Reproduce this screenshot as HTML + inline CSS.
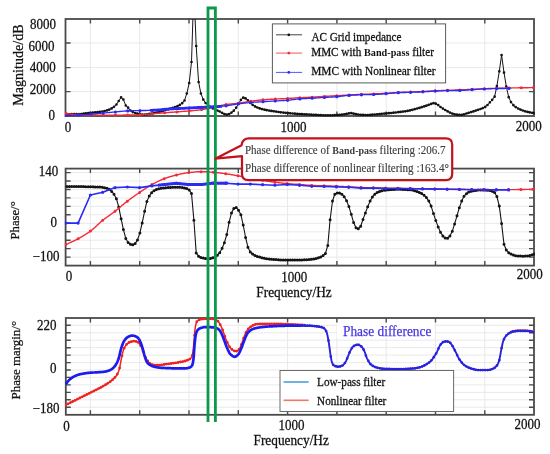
<!DOCTYPE html>
<html><head><meta charset="utf-8"><title>Frequency response comparison</title>
<style>
html,body{margin:0;padding:0;background:#fff;width:550px;height:454px;overflow:hidden}
svg{display:block;filter:blur(0.35px)}
</style></head><body>
<svg width="550" height="454" viewBox="0 0 550 454">
<rect width="550" height="454" fill="#fff"/>
<defs>
<clipPath id="c0"><rect x="64.7" y="19" width="470.1" height="97.8"/></clipPath>
<clipPath id="c1"><rect x="64.8" y="168.6" width="470" height="97.8"/></clipPath>
<clipPath id="c2"><rect x="65" y="318" width="469.8" height="97.6"/></clipPath>
</defs>
<g stroke="#e7e7e7" stroke-width="0.9"><line x1="90.4" y1="19" x2="90.4" y2="116"/><line x1="139.7" y1="19" x2="139.7" y2="116"/><line x1="189" y1="19" x2="189" y2="116"/><line x1="238.3" y1="19" x2="238.3" y2="116"/><line x1="287.6" y1="19" x2="287.6" y2="116"/><line x1="336.9" y1="19" x2="336.9" y2="116"/><line x1="386.2" y1="19" x2="386.2" y2="116"/><line x1="435.5" y1="19" x2="435.5" y2="116"/><line x1="484.8" y1="19" x2="484.8" y2="116"/><line x1="65.5" y1="43" x2="534" y2="43"/><line x1="65.5" y1="67.6" x2="534" y2="67.6"/><line x1="65.5" y1="91.6" x2="534" y2="91.6"/></g>
<g stroke="#e7e7e7" stroke-width="0.9"><line x1="90.4" y1="168.6" x2="90.4" y2="265.6"/><line x1="139.7" y1="168.6" x2="139.7" y2="265.6"/><line x1="189" y1="168.6" x2="189" y2="265.6"/><line x1="238.3" y1="168.6" x2="238.3" y2="265.6"/><line x1="287.6" y1="168.6" x2="287.6" y2="265.6"/><line x1="336.9" y1="168.6" x2="336.9" y2="265.6"/><line x1="386.2" y1="168.6" x2="386.2" y2="265.6"/><line x1="435.5" y1="168.6" x2="435.5" y2="265.6"/><line x1="484.8" y1="168.6" x2="484.8" y2="265.6"/><line x1="65.6" y1="172.6" x2="534" y2="172.6"/><line x1="65.6" y1="181" x2="534" y2="181"/><line x1="65.6" y1="189.5" x2="534" y2="189.5"/><line x1="65.6" y1="197.9" x2="534" y2="197.9"/><line x1="65.6" y1="206.4" x2="534" y2="206.4"/><line x1="65.6" y1="214.8" x2="534" y2="214.8"/><line x1="65.6" y1="223.3" x2="534" y2="223.3"/><line x1="65.6" y1="231.8" x2="534" y2="231.8"/><line x1="65.6" y1="240.2" x2="534" y2="240.2"/><line x1="65.6" y1="248.6" x2="534" y2="248.6"/><line x1="65.6" y1="257.1" x2="534" y2="257.1"/></g>
<g stroke="#e7e7e7" stroke-width="0.9"><line x1="90.4" y1="318" x2="90.4" y2="414.8"/><line x1="139.7" y1="318" x2="139.7" y2="414.8"/><line x1="189" y1="318" x2="189" y2="414.8"/><line x1="238.3" y1="318" x2="238.3" y2="414.8"/><line x1="287.6" y1="318" x2="287.6" y2="414.8"/><line x1="336.9" y1="318" x2="336.9" y2="414.8"/><line x1="386.2" y1="318" x2="386.2" y2="414.8"/><line x1="435.5" y1="318" x2="435.5" y2="414.8"/><line x1="484.8" y1="318" x2="484.8" y2="414.8"/><line x1="65.8" y1="325.3" x2="534" y2="325.3"/><line x1="65.8" y1="332.8" x2="534" y2="332.8"/><line x1="65.8" y1="340.2" x2="534" y2="340.2"/><line x1="65.8" y1="347.7" x2="534" y2="347.7"/><line x1="65.8" y1="355.1" x2="534" y2="355.1"/><line x1="65.8" y1="362.6" x2="534" y2="362.6"/><line x1="65.8" y1="370" x2="534" y2="370"/><line x1="65.8" y1="377.4" x2="534" y2="377.4"/><line x1="65.8" y1="384.9" x2="534" y2="384.9"/><line x1="65.8" y1="392.4" x2="534" y2="392.4"/><line x1="65.8" y1="399.8" x2="534" y2="399.8"/><line x1="65.8" y1="407.2" x2="534" y2="407.2"/></g>
<path d="M90.4,19v4.5M90.4,116v-4.5M139.7,19v4.5M139.7,116v-4.5M189,19v4.5M189,116v-4.5M238.3,19v4.5M238.3,116v-4.5M287.6,19v4.5M287.6,116v-4.5M336.9,19v4.5M336.9,116v-4.5M386.2,19v4.5M386.2,116v-4.5M435.5,19v4.5M435.5,116v-4.5M484.8,19v4.5M484.8,116v-4.5M65.5,43h5M534,43h-5M65.5,67.6h5M534,67.6h-5M65.5,91.6h5M534,91.6h-5" stroke="#4a4a4a" stroke-width="1.4" fill="none"/><rect x="65.5" y="19" width="468.5" height="97" fill="none" stroke="#4a4a4a" stroke-width="1.8"/>
<path d="M90.4,168.6v4.5M90.4,265.6v-4.5M139.7,168.6v4.5M139.7,265.6v-4.5M189,168.6v4.5M189,265.6v-4.5M238.3,168.6v4.5M238.3,265.6v-4.5M287.6,168.6v4.5M287.6,265.6v-4.5M336.9,168.6v4.5M336.9,265.6v-4.5M386.2,168.6v4.5M386.2,265.6v-4.5M435.5,168.6v4.5M435.5,265.6v-4.5M484.8,168.6v4.5M484.8,265.6v-4.5M65.6,172.6h5M534,172.6h-5M65.6,181h5M534,181h-5M65.6,189.5h5M534,189.5h-5M65.6,197.9h5M534,197.9h-5M65.6,206.4h5M534,206.4h-5M65.6,214.8h5M534,214.8h-5M65.6,223.3h5M534,223.3h-5M65.6,231.8h5M534,231.8h-5M65.6,240.2h5M534,240.2h-5M65.6,248.6h5M534,248.6h-5M65.6,257.1h5M534,257.1h-5" stroke="#4a4a4a" stroke-width="1.4" fill="none"/><rect x="65.6" y="168.6" width="468.4" height="97" fill="none" stroke="#4a4a4a" stroke-width="1.8"/>
<path d="M90.4,318v4.5M90.4,414.8v-4.5M139.7,318v4.5M139.7,414.8v-4.5M189,318v4.5M189,414.8v-4.5M238.3,318v4.5M238.3,414.8v-4.5M287.6,318v4.5M287.6,414.8v-4.5M336.9,318v4.5M336.9,414.8v-4.5M386.2,318v4.5M386.2,414.8v-4.5M435.5,318v4.5M435.5,414.8v-4.5M484.8,318v4.5M484.8,414.8v-4.5M65.8,325.3h5M534,325.3h-5M65.8,332.8h5M534,332.8h-5M65.8,340.2h5M534,340.2h-5M65.8,347.7h5M534,347.7h-5M65.8,355.1h5M534,355.1h-5M65.8,362.6h5M534,362.6h-5M65.8,370h5M534,370h-5M65.8,377.4h5M534,377.4h-5M65.8,384.9h5M534,384.9h-5M65.8,392.4h5M534,392.4h-5M65.8,399.8h5M534,399.8h-5M65.8,407.2h5M534,407.2h-5" stroke="#4a4a4a" stroke-width="1.4" fill="none"/><rect x="65.8" y="318" width="468.2" height="96.8" fill="none" stroke="#4a4a4a" stroke-width="1.8"/>
<g clip-path="url(#c0)"><path d="M67,114.3 L69.4,114.3 L71.7,114.2 L74.1,114.2 L76.4,114.2 L78.8,114.1 L81.1,114 L83.5,113.7 L85.8,113.4 L88.2,113.1 L90.5,112.9 L92.9,112.6 L95.2,112.4 L97.6,112.2 L99.9,111.9 L102.3,111.5 L104.6,111 L107,110.4 L109.3,109.6 L111.7,108.4 L114,106.8 L116.4,104.5 L118.7,101 L121.1,97.4 L123.4,99.6 L125.8,105.5 L128.1,107.7 L130.5,110.5 L132.8,112.1 L135.2,113 L137.5,113.7 L139.9,114.1 L142.2,114.5 L144.6,114.6 L146.9,114.3 L149.3,113.9 L151.6,113.5 L154,113 L156.3,112.5 L158.7,112 L161,111.4 L163.4,110.8 L165.7,110.1 L168.1,109.3 L170.4,108.6 L172.8,107.9 L175.1,107.1 L177.5,106.1 L179.8,104.9 L182.2,103.2 L184.5,100.5 L186.8,93.5 L189.2,83 L191.5,62 L193.9,-12 L196.2,46 L198.6,82 L200.9,93.5 L203.3,99.7 L205.6,103 L208,105.1 L210.3,106.8 L212.7,108.3 L215,109.5 L217.4,110.5 L219.7,111.5 L222.1,112.8 L224.4,114.1 L226.8,114.6 L229.1,114 L231.5,112.6 L233.8,110.7 L236.2,107.7 L238.5,103.7 L240.9,99.9 L243.2,97.7 L245.6,98.4 L247.9,100.3 L250.3,102.9 L252.6,104.8 L255,106.4 L257.3,107.5 L259.7,108.4 L262,109.1 L264.4,109.7 L266.7,110.2 L269.1,110.6 L271.4,110.9 L273.8,111.3 L276.1,111.6 L278.5,112 L280.8,112.3 L283.2,112.6 L285.5,112.8 L287.9,113.1 L290.2,113.3 L292.6,113.5 L294.9,113.7 L297.3,113.9 L299.6,114 L301.9,114.2 L304.3,114.3 L306.6,114.4 L309,114.5 L311.3,114.7 L313.7,114.8 L316,114.9 L318.4,115.1 L320.7,115.2 L323.1,115.3 L325.4,115.4 L327.8,115.4 L330.1,115.4 L332.5,115.3 L334.8,115.2 L337.2,115.1 L339.5,114.9 L341.9,114.7 L344.2,114.3 L346.6,113.9 L348.9,113.4 L351.3,113.2 L353.6,113.7 L356,114.2 L358.3,114.5 L360.7,114.8 L363,114.9 L365.4,115 L367.7,115 L370.1,114.9 L372.4,114.7 L374.8,114.5 L377.1,114.3 L379.5,114.1 L381.8,113.8 L384.2,113.6 L386.5,113.4 L388.9,113.2 L391.2,113 L393.6,112.7 L395.9,112.5 L398.3,112.2 L400.6,111.9 L403,111.6 L405.3,111.3 L407.7,110.9 L410,110.4 L412.4,109.8 L414.7,109.2 L417.1,108.5 L419.4,107.9 L421.7,107.2 L424.1,106.4 L426.4,105.7 L428.8,104.8 L431.1,103.9 L433.5,103.2 L435.8,103.7 L438.2,105.1 L440.5,107 L442.9,108.6 L445.2,110 L447.6,111.3 L449.9,112.6 L452.3,113.6 L454.6,114.3 L457,114.7 L459.3,114.8 L461.7,114.8 L464,114.4 L466.4,113.5 L468.7,112.8 L471.1,112.1 L473.4,111.4 L475.8,110.6 L478.1,109.8 L480.5,109 L482.8,108.1 L485.2,106.9 L487.5,105 L489.9,102.3 L492.2,99.8 L494.6,96.7 L496.9,86 L499.3,71.3 L501.6,55 L504,72.6 L506.3,86.5 L508.7,97.2 L511,102.1 L513.4,105.2 L515.7,107.1 L518.1,108.5 L520.4,109.6 L522.8,110.5 L525.1,111.3 L527.5,111.9 L529.8,112.4 L532.2,112.8 L534.5,113.1" fill="none" stroke="#141414" stroke-width="1.0" stroke-linejoin="round"/><path d="M67,114.3h0M69.4,114.3h0M71.7,114.2h0M74.1,114.2h0M76.4,114.2h0M78.8,114.1h0M81.1,114h0M83.5,113.7h0M85.8,113.4h0M88.2,113.1h0M90.5,112.9h0M92.9,112.6h0M95.2,112.4h0M97.6,112.2h0M99.9,111.9h0M102.3,111.5h0M104.6,111h0M107,110.4h0M109.3,109.6h0M111.7,108.4h0M114,106.8h0M116.4,104.5h0M118.7,101h0M121.1,97.4h0M123.4,99.6h0M125.8,105.5h0M128.1,107.7h0M130.5,110.5h0M132.8,112.1h0M135.2,113h0M137.5,113.7h0M139.9,114.1h0M142.2,114.5h0M144.6,114.6h0M146.9,114.3h0M149.3,113.9h0M151.6,113.5h0M154,113h0M156.3,112.5h0M158.7,112h0M161,111.4h0M163.4,110.8h0M165.7,110.1h0M168.1,109.3h0M170.4,108.6h0M172.8,107.9h0M175.1,107.1h0M177.5,106.1h0M179.8,104.9h0M182.2,103.2h0M184.5,100.5h0M186.8,93.5h0M189.2,83h0M191.5,62h0M193.9,-12h0M196.2,46h0M198.6,82h0M200.9,93.5h0M203.3,99.7h0M205.6,103h0M208,105.1h0M210.3,106.8h0M212.7,108.3h0M215,109.5h0M217.4,110.5h0M219.7,111.5h0M222.1,112.8h0M224.4,114.1h0M226.8,114.6h0M229.1,114h0M231.5,112.6h0M233.8,110.7h0M236.2,107.7h0M238.5,103.7h0M240.9,99.9h0M243.2,97.7h0M245.6,98.4h0M247.9,100.3h0M250.3,102.9h0M252.6,104.8h0M255,106.4h0M257.3,107.5h0M259.7,108.4h0M262,109.1h0M264.4,109.7h0M266.7,110.2h0M269.1,110.6h0M271.4,110.9h0M273.8,111.3h0M276.1,111.6h0M278.5,112h0M280.8,112.3h0M283.2,112.6h0M285.5,112.8h0M287.9,113.1h0M290.2,113.3h0M292.6,113.5h0M294.9,113.7h0M297.3,113.9h0M299.6,114h0M301.9,114.2h0M304.3,114.3h0M306.6,114.4h0M309,114.5h0M311.3,114.7h0M313.7,114.8h0M316,114.9h0M318.4,115.1h0M320.7,115.2h0M323.1,115.3h0M325.4,115.4h0M327.8,115.4h0M330.1,115.4h0M332.5,115.3h0M334.8,115.2h0M337.2,115.1h0M339.5,114.9h0M341.9,114.7h0M344.2,114.3h0M346.6,113.9h0M348.9,113.4h0M351.3,113.2h0M353.6,113.7h0M356,114.2h0M358.3,114.5h0M360.7,114.8h0M363,114.9h0M365.4,115h0M367.7,115h0M370.1,114.9h0M372.4,114.7h0M374.8,114.5h0M377.1,114.3h0M379.5,114.1h0M381.8,113.8h0M384.2,113.6h0M386.5,113.4h0M388.9,113.2h0M391.2,113h0M393.6,112.7h0M395.9,112.5h0M398.3,112.2h0M400.6,111.9h0M403,111.6h0M405.3,111.3h0M407.7,110.9h0M410,110.4h0M412.4,109.8h0M414.7,109.2h0M417.1,108.5h0M419.4,107.9h0M421.7,107.2h0M424.1,106.4h0M426.4,105.7h0M428.8,104.8h0M431.1,103.9h0M433.5,103.2h0M435.8,103.7h0M438.2,105.1h0M440.5,107h0M442.9,108.6h0M445.2,110h0M447.6,111.3h0M449.9,112.6h0M452.3,113.6h0M454.6,114.3h0M457,114.7h0M459.3,114.8h0M461.7,114.8h0M464,114.4h0M466.4,113.5h0M468.7,112.8h0M471.1,112.1h0M473.4,111.4h0M475.8,110.6h0M478.1,109.8h0M480.5,109h0M482.8,108.1h0M485.2,106.9h0M487.5,105h0M489.9,102.3h0M492.2,99.8h0M494.6,96.7h0M496.9,86h0M499.3,71.3h0M501.6,55h0M504,72.6h0M506.3,86.5h0M508.7,97.2h0M511,102.1h0M513.4,105.2h0M515.7,107.1h0M518.1,108.5h0M520.4,109.6h0M522.8,110.5h0M525.1,111.3h0M527.5,111.9h0M529.8,112.4h0M532.2,112.8h0M534.5,113.1h0" stroke="#141414" stroke-width="2.7" stroke-linecap="round" fill="none"/></g>
<g clip-path="url(#c0)"><path d="M65.6,113.5 L66.1,113.6 L66.6,113.6 L67.1,113.7 L67.6,113.8 L68.1,113.8 L68.6,113.9 L69.1,114 L69.6,114 L70.1,114.1 L70.6,114.1 L71.1,114.2 L71.6,114.2 L72.1,114.3 L72.6,114.3 L73.1,114.4 L73.6,114.4 L74.1,114.4 L74.6,114.5 L75.1,114.5 L75.6,114.5 L76.1,114.6 L76.6,114.6 L77.1,114.6 L77.6,114.6 L78.1,114.7 L78.6,114.7 L79.1,114.7 L79.6,114.7 L80.1,114.7 L80.6,114.8 L81.1,114.8 L81.6,114.8 L82.1,114.8 L82.6,114.8 L83.1,114.9 L83.6,114.9 L84.1,114.9 L84.6,114.9 L85.1,114.9 L85.6,114.9 L86.1,114.9 L86.6,114.9 L87.1,115 L87.6,115 L88.1,115 L88.6,115 L89.1,115 L89.6,115 L90.1,115 L90.6,115 L91.1,115 L91.6,115 L92.1,115 L92.6,115 L93.1,115 L93.6,115 L94.1,115 L94.6,115 L95.1,115 L95.6,115 L96.1,115 L96.6,115.1 L97.1,115.1 L97.6,115.1 L98.1,115.1 L98.6,115.1 L99.1,115.1 L99.6,115.1 L100.1,115.1 L100.6,115.1 L101.1,115.1 L101.6,115.1 L102.1,115.1 L102.6,115.1 L103.1,115.1 L103.6,115.1 L104.1,115.1 L104.6,115.1 L105.1,115.1 L105.6,115.1 L106.1,115.1 L106.6,115.1 L107.1,115.1 L107.6,115.1 L108.1,115.1 L108.6,115.1 L109.1,115.1 L109.6,115.1 L110.1,115.1 L110.6,115.1 L111.1,115.1 L111.6,115.1 L112.1,115.1 L112.6,115.1 L113.1,115.1 L113.6,115.1 L114.1,115.1 L114.6,115.1 L115.1,115.1 L115.6,115.1 L116.1,115.1 L116.6,115.1 L117.1,115.1 L117.6,115.1 L118.1,115.1 L118.6,115.1 L119.1,115.1 L119.6,115.1 L120.1,115.1 L120.6,115.1 L121.1,115.1 L121.6,115.1 L122.1,115.1 L122.6,115.1 L123.1,115.1 L123.6,115 L124.1,115 L124.6,115 L125.1,115 L125.6,115 L126.1,115 L126.6,115 L127.1,115 L127.6,115 L128.1,115 L128.6,115 L129.1,115 L129.6,115 L130.1,115 L130.6,115 L131.1,115 L131.6,115 L132.1,115 L132.6,115 L133.1,115 L133.6,115 L134.1,114.9 L134.6,114.9 L135.1,114.9 L135.6,114.9 L136.1,114.9 L136.6,114.9 L137.1,114.9 L137.6,114.9 L138.1,114.9 L138.6,114.8 L139.1,114.8 L139.6,114.8 L140.1,114.8 L140.6,114.8 L141.1,114.8 L141.6,114.7 L142.1,114.7 L142.6,114.7 L143.1,114.6 L143.6,114.6 L144.1,114.6 L144.6,114.5 L145.1,114.5 L145.6,114.4 L146.1,114.4 L146.6,114.4 L147.1,114.3 L147.6,114.3 L148.1,114.2 L148.6,114.2 L149.1,114.1 L149.6,114.1 L150.1,114 L150.6,114 L151.1,113.9 L151.6,113.9 L152.1,113.8 L152.6,113.8 L153.1,113.7 L153.6,113.7 L154.1,113.6 L154.6,113.6 L155.1,113.6 L155.6,113.5 L156.1,113.5 L156.6,113.4 L157.1,113.4 L157.6,113.4 L158.1,113.3 L158.6,113.3 L159.1,113.2 L159.6,113.2 L160.1,113.2 L160.6,113.1 L161.1,113.1 L161.6,113 L162.1,113 L162.6,113 L163.1,112.9 L163.6,112.9 L164.1,112.8 L164.6,112.8 L165.1,112.8 L165.6,112.7 L166.1,112.7 L166.6,112.7 L167.1,112.6 L167.6,112.6 L168.1,112.5 L168.6,112.5 L169.1,112.5 L169.6,112.4 L170.1,112.4 L170.6,112.3 L171.1,112.3 L171.6,112.3 L172.1,112.2 L172.6,112.2 L173.1,112.2 L173.6,112.1 L174.1,112.1 L174.6,112 L175.1,112 L175.6,112 L176.1,111.9 L176.6,111.9 L177.1,111.8 L177.6,111.8 L178.1,111.8 L178.6,111.7 L179.1,111.7 L179.6,111.7 L180.1,111.6 L180.6,111.6 L181.1,111.6 L181.6,111.5 L182.1,111.5 L182.6,111.4 L183.1,111.4 L183.6,111.4 L184.1,111.3 L184.6,111.3 L185.1,111.3 L185.6,111.2 L186.1,111.2 L186.6,111.1 L187.1,111.1 L187.6,111.1 L188.1,111 L188.6,111 L189.1,110.9 L189.6,110.9 L190.1,110.8 L190.6,110.8 L191.1,110.8 L191.6,110.7 L192.1,110.7 L192.6,110.6 L193.1,110.6 L193.6,110.5 L194.1,110.5 L194.6,110.4 L195.1,110.4 L195.6,110.3 L196.1,110.3 L196.6,110.2 L197.1,110.2 L197.6,110.1 L198.1,110.1 L198.6,110 L199.1,110 L199.6,109.9 L200.1,109.8 L200.6,109.8 L201.1,109.7 L201.6,109.6 L202.1,109.6 L202.6,109.5 L203.1,109.4 L203.6,109.3 L204.1,109.2 L204.6,109.1 L205.1,109 L205.6,108.9 L206.1,108.8 L206.6,108.7 L207.1,108.6 L207.6,108.5 L208.1,108.4 L208.6,108.2 L209.1,108.1 L209.6,108 L210.1,107.9 L210.6,107.8 L211.1,107.7 L211.6,107.5 L212.1,107.4 L212.6,107.3 L213.1,107.2 L213.6,107.1 L214.1,107 L214.6,106.9 L215.1,106.8 L215.6,106.7 L216.1,106.6 L216.6,106.5 L217.1,106.4 L217.6,106.2 L218.1,106.1 L218.6,106 L219.1,105.9 L219.6,105.8 L220.1,105.7 L220.6,105.6 L221.1,105.5 L221.6,105.4 L222.1,105.3 L222.6,105.2 L223.1,105.1 L223.6,105 L224.1,104.9 L224.6,104.8 L225.1,104.7 L225.6,104.6 L226.1,104.6 L226.6,104.5 L227.1,104.4 L227.6,104.4 L228.1,104.3 L228.6,104.2 L229.1,104.2 L229.6,104.1 L230.1,104.1 L230.6,104 L231.1,104 L231.6,103.9 L232.1,103.9 L232.6,103.8 L233.1,103.8 L233.6,103.7 L234.1,103.7 L234.6,103.6 L235.1,103.6 L235.6,103.5 L236.1,103.5 L236.6,103.4 L237.1,103.3 L237.6,103.3 L238.1,103.2 L238.6,103.2 L239.1,103.1 L239.6,103 L240.1,102.9 L240.6,102.9 L241.1,102.8 L241.6,102.7 L242.1,102.6 L242.6,102.6 L243.1,102.5 L243.6,102.4 L244.1,102.3 L244.6,102.2 L245.1,102.2 L245.6,102.1 L246.1,102 L246.6,101.9 L247.1,101.8 L247.6,101.7 L248.1,101.7 L248.6,101.6 L249.1,101.5 L249.6,101.4 L250.1,101.4 L250.6,101.3 L251.1,101.2 L251.6,101.2 L252.1,101.1 L252.6,101 L253.1,101 L253.6,100.9 L254.1,100.8 L254.6,100.8 L255.1,100.7 L255.6,100.6 L256.1,100.6 L256.6,100.5 L257.1,100.4 L257.6,100.4 L258.1,100.3 L258.6,100.2 L259.1,100.2 L259.6,100.1 L260.1,100.1 L260.6,100 L261.1,100 L261.6,99.9 L262.1,99.9 L262.6,99.8 L263.1,99.8 L263.6,99.8 L264.1,99.7 L264.6,99.7 L265.1,99.6 L265.6,99.6 L266.1,99.6 L266.6,99.5 L267.1,99.5 L267.6,99.5 L268.1,99.5 L268.6,99.4 L269.1,99.4 L269.6,99.4 L270.1,99.3 L270.6,99.3 L271.1,99.3 L271.6,99.3 L272.1,99.2 L272.6,99.2 L273.1,99.2 L273.6,99.2 L274.1,99.1 L274.6,99.1 L275.1,99.1 L275.6,99 L276.1,99 L276.6,99 L277.1,99 L277.6,98.9 L278.1,98.9 L278.6,98.9 L279.1,98.9 L279.6,98.9 L280.1,98.8 L280.6,98.8 L281.1,98.8 L281.6,98.8 L282.1,98.7 L282.6,98.7 L283.1,98.7 L283.6,98.7 L284.1,98.6 L284.6,98.6 L285.1,98.6 L285.6,98.6 L286.1,98.5 L286.6,98.5 L287.1,98.5 L287.6,98.5 L288.1,98.4 L288.6,98.4 L289.1,98.4 L289.6,98.3 L290.1,98.3 L290.6,98.3 L291.1,98.2 L291.6,98.2 L292.1,98.2 L292.6,98.1 L293.1,98.1 L293.6,98.1 L294.1,98 L294.6,98 L295.1,98 L295.6,97.9 L296.1,97.9 L296.6,97.9 L297.1,97.8 L297.6,97.8 L298.1,97.8 L298.6,97.7 L299.1,97.7 L299.6,97.7 L300.1,97.7 L300.6,97.6 L301.1,97.6 L301.6,97.6 L302.1,97.6 L302.6,97.6 L303.1,97.5 L303.6,97.5 L304.1,97.5 L304.6,97.5 L305.1,97.5 L305.6,97.5 L306.1,97.4 L306.6,97.4 L307.1,97.4 L307.6,97.4 L308.1,97.4 L308.6,97.3 L309.1,97.3 L309.6,97.3 L310.1,97.3 L310.6,97.3 L311.1,97.2 L311.6,97.2 L312.1,97.2 L312.6,97.2 L313.1,97.1 L313.6,97.1 L314.1,97.1 L314.6,97 L315.1,97 L315.6,97 L316.1,96.9 L316.6,96.9 L317.1,96.9 L317.6,96.8 L318.1,96.8 L318.6,96.8 L319.1,96.7 L319.6,96.7 L320.1,96.7 L320.6,96.6 L321.1,96.6 L321.6,96.6 L322.1,96.5 L322.6,96.5 L323.1,96.5 L323.6,96.4 L324.1,96.4 L324.6,96.4 L325.1,96.3 L325.6,96.3 L326.1,96.3 L326.6,96.3 L327.1,96.2 L327.6,96.2 L328.1,96.2 L328.6,96.1 L329.1,96.1 L329.6,96.1 L330.1,96.1 L330.6,96 L331.1,96 L331.6,96 L332.1,95.9 L332.6,95.9 L333.1,95.9 L333.6,95.9 L334.1,95.8 L334.6,95.8 L335.1,95.8 L335.6,95.8 L336.1,95.7 L336.6,95.7 L337.1,95.7 L337.6,95.6 L338.1,95.6 L338.6,95.6 L339.1,95.6 L339.6,95.5 L340.1,95.5 L340.6,95.5 L341.1,95.4 L341.6,95.4 L342.1,95.4 L342.6,95.4 L343.1,95.3 L343.6,95.3 L344.1,95.3 L344.6,95.2 L345.1,95.2 L345.6,95.2 L346.1,95.2 L346.6,95.1 L347.1,95.1 L347.6,95.1 L348.1,95 L348.6,95 L349.1,95 L349.6,95 L350.1,94.9 L350.6,94.9 L351.1,94.9 L351.6,94.8 L352.1,94.8 L352.6,94.8 L353.1,94.7 L353.6,94.7 L354.1,94.7 L354.6,94.7 L355.1,94.6 L355.6,94.6 L356.1,94.6 L356.6,94.5 L357.1,94.5 L357.6,94.5 L358.1,94.5 L358.6,94.4 L359.1,94.4 L359.6,94.4 L360.1,94.4 L360.6,94.3 L361.1,94.3 L361.6,94.3 L362.1,94.3 L362.6,94.3 L363.1,94.2 L363.6,94.2 L364.1,94.2 L364.6,94.2 L365.1,94.2 L365.6,94.2 L366.1,94.1 L366.6,94.1 L367.1,94.1 L367.6,94.1 L368.1,94.1 L368.6,94.1 L369.1,94.1 L369.6,94 L370.1,94 L370.6,94 L371.1,94 L371.6,94 L372.1,94 L372.6,94 L373.1,93.9 L373.6,93.9 L374.1,93.9 L374.6,93.9 L375.1,93.9 L375.6,93.8 L376.1,93.8 L376.6,93.8 L377.1,93.8 L377.6,93.7 L378.1,93.7 L378.6,93.7 L379.1,93.7 L379.6,93.7 L380.1,93.6 L380.6,93.6 L381.1,93.6 L381.6,93.5 L382.1,93.5 L382.6,93.5 L383.1,93.5 L383.6,93.4 L384.1,93.4 L384.6,93.4 L385.1,93.4 L385.6,93.3 L386.1,93.3 L386.6,93.3 L387.1,93.2 L387.6,93.2 L388.1,93.2 L388.6,93.1 L389.1,93.1 L389.6,93 L390.1,93 L390.6,93 L391.1,92.9 L391.6,92.9 L392.1,92.8 L392.6,92.8 L393.1,92.8 L393.6,92.7 L394.1,92.7 L394.6,92.6 L395.1,92.6 L395.6,92.6 L396.1,92.5 L396.6,92.5 L397.1,92.5 L397.6,92.4 L398.1,92.4 L398.6,92.4 L399.1,92.4 L399.6,92.4 L400.1,92.3 L400.6,92.3 L401.1,92.3 L401.6,92.3 L402.1,92.3 L402.6,92.2 L403.1,92.2 L403.6,92.2 L404.1,92.2 L404.6,92.2 L405.1,92.2 L405.6,92.2 L406.1,92.1 L406.6,92.1 L407.1,92.1 L407.6,92.1 L408.1,92.1 L408.6,92.1 L409.1,92.1 L409.6,92 L410.1,92 L410.6,92 L411.1,92 L411.6,92 L412.1,92 L412.6,91.9 L413.1,91.9 L413.6,91.9 L414.1,91.9 L414.6,91.9 L415.1,91.8 L415.6,91.8 L416.1,91.8 L416.6,91.8 L417.1,91.8 L417.6,91.7 L418.1,91.7 L418.6,91.7 L419.1,91.7 L419.6,91.7 L420.1,91.6 L420.6,91.6 L421.1,91.6 L421.6,91.6 L422.1,91.5 L422.6,91.5 L423.1,91.5 L423.6,91.5 L424.1,91.5 L424.6,91.4 L425.1,91.4 L425.6,91.4 L426.1,91.3 L426.6,91.3 L427.1,91.3 L427.6,91.3 L428.1,91.2 L428.6,91.2 L429.1,91.2 L429.6,91.1 L430.1,91.1 L430.6,91.1 L431.1,91 L431.6,91 L432.1,91 L432.6,90.9 L433.1,90.9 L433.6,90.9 L434.1,90.9 L434.6,90.8 L435.1,90.8 L435.6,90.8 L436.1,90.8 L436.6,90.7 L437.1,90.7 L437.6,90.7 L438.1,90.7 L438.6,90.7 L439.1,90.6 L439.6,90.6 L440.1,90.6 L440.6,90.6 L441.1,90.6 L441.6,90.5 L442.1,90.5 L442.6,90.5 L443.1,90.5 L443.6,90.5 L444.1,90.4 L444.6,90.4 L445.1,90.4 L445.6,90.4 L446.1,90.4 L446.6,90.3 L447.1,90.3 L447.6,90.3 L448.1,90.3 L448.6,90.3 L449.1,90.3 L449.6,90.2 L450.1,90.2 L450.6,90.2 L451.1,90.2 L451.6,90.2 L452.1,90.2 L452.6,90.1 L453.1,90.1 L453.6,90.1 L454.1,90.1 L454.6,90.1 L455.1,90.1 L455.6,90 L456.1,90 L456.6,90 L457.1,90 L457.6,90 L458.1,90 L458.6,89.9 L459.1,89.9 L459.6,89.9 L460.1,89.9 L460.6,89.9 L461.1,89.8 L461.6,89.8 L462.1,89.8 L462.6,89.8 L463.1,89.8 L463.6,89.7 L464.1,89.7 L464.6,89.7 L465.1,89.7 L465.6,89.6 L466.1,89.6 L466.6,89.6 L467.1,89.5 L467.6,89.5 L468.1,89.5 L468.6,89.5 L469.1,89.4 L469.6,89.4 L470.1,89.4 L470.6,89.4 L471.1,89.3 L471.6,89.3 L472.1,89.3 L472.6,89.3 L473.1,89.2 L473.6,89.2 L474.1,89.2 L474.6,89.2 L475.1,89.1 L475.6,89.1 L476.1,89.1 L476.6,89.1 L477.1,89 L477.6,89 L478.1,89 L478.6,89 L479.1,88.9 L479.6,88.9 L480.1,88.9 L480.6,88.9 L481.1,88.8 L481.6,88.8 L482.1,88.8 L482.6,88.8 L483.1,88.7 L483.6,88.7 L484.1,88.7 L484.6,88.7 L485.1,88.7 L485.6,88.7 L486.1,88.6 L486.6,88.6 L487.1,88.6 L487.6,88.6 L488.1,88.6 L488.6,88.5 L489.1,88.5 L489.6,88.5 L490.1,88.5 L490.6,88.5 L491.1,88.5 L491.6,88.4 L492.1,88.4 L492.6,88.4 L493.1,88.4 L493.6,88.4 L494.1,88.4 L494.6,88.4 L495.1,88.3 L495.6,88.3 L496.1,88.3 L496.6,88.3 L497.1,88.3 L497.6,88.3 L498.1,88.3 L498.6,88.2 L499.1,88.2 L499.6,88.2 L500.1,88.2 L500.6,88.2 L501.1,88.2 L501.6,88.2 L502.1,88.2 L502.6,88.1 L503.1,88.1 L503.6,88.1 L504.1,88.1 L504.6,88.1 L505.1,88.1 L505.6,88.1 L506.1,88.1 L506.6,88 L507.1,88 L507.6,88 L508.1,88 L508.6,88 L509.1,88 L509.6,88 L510.1,88 L510.6,88 L511.1,88 L511.6,88 L512.1,87.9 L512.6,87.9 L513.1,87.9 L513.6,87.9 L514.1,87.9 L514.6,87.9 L515.1,87.9 L515.6,87.9 L516.1,87.9 L516.6,87.9 L517.1,87.9 L517.6,87.9 L518.1,87.9 L518.6,87.8 L519.1,87.8 L519.6,87.8 L520.1,87.8 L520.6,87.8 L521.1,87.8 L521.6,87.8 L522.1,87.8 L522.6,87.8 L523.1,87.8 L523.6,87.8 L524.1,87.7 L524.6,87.7 L525.1,87.7 L525.6,87.7 L526.1,87.7 L526.6,87.7 L527.1,87.7 L527.6,87.7 L528.1,87.7 L528.6,87.6 L529.1,87.6 L529.6,87.6 L530.1,87.6 L530.6,87.6 L531.1,87.6 L531.6,87.6 L532.1,87.6 L532.6,87.5 L533.1,87.5 L533.6,87.5 L534,87.5" fill="none" stroke="#f42a36" stroke-width="1.4" stroke-linejoin="round"/><path d="M66.2,113.6h0M78.5,114.7h0M90.8,115h0M103.1,115.1h0M115.4,115.1h0M127.7,115h0M140,114.8h0M152.3,113.8h0M164.6,112.8h0M176.9,111.9h0M189.2,110.9h0M201.5,109.6h0M213.8,107.1h0M226.1,104.6h0M238.4,103.2h0M250.7,101.3h0M263,99.8h0M275.3,99.1h0M287.6,98.5h0M299.9,97.7h0M312.2,97.2h0M324.5,96.4h0M336.8,95.7h0M349.1,95h0M361.4,94.3h0M373.7,93.9h0M386,93.3h0M398.3,92.4h0M410.6,92h0M422.9,91.5h0M435.2,90.8h0M447.5,90.3h0M459.8,89.9h0M472.1,89.3h0M484.4,88.7h0M496.7,88.3h0M509,88h0M521.3,87.8h0M533.6,87.5h0" stroke="#f42a36" stroke-width="3.0" stroke-linecap="round" fill="none"/></g>
<g clip-path="url(#c0)"><path d="M65.6,116 L66.1,116 L66.6,115.9 L67.1,115.9 L67.6,115.9 L68.1,115.9 L68.6,115.8 L69.1,115.8 L69.6,115.8 L70.1,115.8 L70.6,115.7 L71.1,115.7 L71.6,115.7 L72.1,115.6 L72.6,115.6 L73.1,115.6 L73.6,115.5 L74.1,115.5 L74.6,115.5 L75.1,115.4 L75.6,115.4 L76.1,115.4 L76.6,115.3 L77.1,115.3 L77.6,115.3 L78.1,115.2 L78.6,115.2 L79.1,115.2 L79.6,115.1 L80.1,115.1 L80.6,115 L81.1,115 L81.6,115 L82.1,114.9 L82.6,114.9 L83.1,114.8 L83.6,114.8 L84.1,114.7 L84.6,114.7 L85.1,114.7 L85.6,114.6 L86.1,114.6 L86.6,114.5 L87.1,114.5 L87.6,114.4 L88.1,114.4 L88.6,114.3 L89.1,114.3 L89.6,114.3 L90.1,114.2 L90.6,114.2 L91.1,114.1 L91.6,114.1 L92.1,114 L92.6,114 L93.1,113.9 L93.6,113.9 L94.1,113.9 L94.6,113.8 L95.1,113.8 L95.6,113.7 L96.1,113.7 L96.6,113.6 L97.1,113.6 L97.6,113.5 L98.1,113.5 L98.6,113.4 L99.1,113.4 L99.6,113.4 L100.1,113.3 L100.6,113.3 L101.1,113.2 L101.6,113.2 L102.1,113.1 L102.6,113.1 L103.1,113 L103.6,113 L104.1,113 L104.6,112.9 L105.1,112.9 L105.6,112.8 L106.1,112.8 L106.6,112.7 L107.1,112.7 L107.6,112.6 L108.1,112.6 L108.6,112.6 L109.1,112.5 L109.6,112.5 L110.1,112.4 L110.6,112.4 L111.1,112.3 L111.6,112.3 L112.1,112.2 L112.6,112.2 L113.1,112.2 L113.6,112.1 L114.1,112.1 L114.6,112 L115.1,112 L115.6,111.9 L116.1,111.9 L116.6,111.8 L117.1,111.8 L117.6,111.7 L118.1,111.7 L118.6,111.6 L119.1,111.6 L119.6,111.5 L120.1,111.5 L120.6,111.4 L121.1,111.4 L121.6,111.3 L122.1,111.3 L122.6,111.2 L123.1,111.2 L123.6,111.1 L124.1,111.1 L124.6,111.1 L125.1,111 L125.6,111 L126.1,111 L126.6,110.9 L127.1,110.9 L127.6,110.9 L128.1,110.9 L128.6,110.9 L129.1,110.8 L129.6,110.8 L130.1,110.8 L130.6,110.8 L131.1,110.8 L131.6,110.8 L132.1,110.8 L132.6,110.7 L133.1,110.7 L133.6,110.7 L134.1,110.7 L134.6,110.7 L135.1,110.7 L135.6,110.7 L136.1,110.7 L136.6,110.7 L137.1,110.7 L137.6,110.6 L138.1,110.6 L138.6,110.6 L139.1,110.6 L139.6,110.6 L140.1,110.6 L140.6,110.6 L141.1,110.6 L141.6,110.6 L142.1,110.5 L142.6,110.5 L143.1,110.5 L143.6,110.5 L144.1,110.5 L144.6,110.5 L145.1,110.5 L145.6,110.5 L146.1,110.5 L146.6,110.4 L147.1,110.4 L147.6,110.4 L148.1,110.4 L148.6,110.4 L149.1,110.4 L149.6,110.4 L150.1,110.3 L150.6,110.3 L151.1,110.3 L151.6,110.3 L152.1,110.3 L152.6,110.3 L153.1,110.3 L153.6,110.2 L154.1,110.2 L154.6,110.2 L155.1,110.2 L155.6,110.1 L156.1,110.1 L156.6,110.1 L157.1,110.1 L157.6,110 L158.1,110 L158.6,109.9 L159.1,109.9 L159.6,109.8 L160.1,109.8 L160.6,109.8 L161.1,109.7 L161.6,109.7 L162.1,109.6 L162.6,109.6 L163.1,109.5 L163.6,109.5 L164.1,109.4 L164.6,109.4 L165.1,109.3 L165.6,109.3 L166.1,109.2 L166.6,109.2 L167.1,109.1 L167.6,109.1 L168.1,109.1 L168.6,109 L169.1,109 L169.6,109 L170.1,108.9 L170.6,108.9 L171.1,108.9 L171.6,108.9 L172.1,108.8 L172.6,108.8 L173.1,108.8 L173.6,108.8 L174.1,108.7 L174.6,108.7 L175.1,108.7 L175.6,108.7 L176.1,108.6 L176.6,108.6 L177.1,108.6 L177.6,108.6 L178.1,108.6 L178.6,108.5 L179.1,108.5 L179.6,108.5 L180.1,108.5 L180.6,108.4 L181.1,108.4 L181.6,108.4 L182.1,108.4 L182.6,108.4 L183.1,108.3 L183.6,108.3 L184.1,108.3 L184.6,108.2 L185.1,108.2 L185.6,108.2 L186.1,108.2 L186.6,108.1 L187.1,108.1 L187.6,108.1 L188.1,108.1 L188.6,108 L189.1,108 L189.6,108 L190.1,107.9 L190.6,107.9 L191.1,107.9 L191.6,107.9 L192.1,107.8 L192.6,107.8 L193.1,107.8 L193.6,107.7 L194.1,107.7 L194.6,107.7 L195.1,107.7 L195.6,107.6 L196.1,107.6 L196.6,107.6 L197.1,107.6 L197.6,107.5 L198.1,107.5 L198.6,107.5 L199.1,107.5 L199.6,107.4 L200.1,107.4 L200.6,107.4 L201.1,107.4 L201.6,107.4 L202.1,107.3 L202.6,107.3 L203.1,107.3 L203.6,107.3 L204.1,107.3 L204.6,107.2 L205.1,107.2 L205.6,107.2 L206.1,107.2 L206.6,107.2 L207.1,107.2 L207.6,107.1 L208.1,107.1 L208.6,107.1 L209.1,107.1 L209.6,107.1 L210.1,107 L210.6,107 L211.1,107 L211.6,107 L212.1,107 L212.6,106.9 L213.1,106.9 L213.6,106.9 L214.1,106.9 L214.6,106.8 L215.1,106.8 L215.6,106.8 L216.1,106.7 L216.6,106.7 L217.1,106.7 L217.6,106.6 L218.1,106.6 L218.6,106.5 L219.1,106.5 L219.6,106.5 L220.1,106.4 L220.6,106.4 L221.1,106.3 L221.6,106.3 L222.1,106.2 L222.6,106.2 L223.1,106.1 L223.6,106.1 L224.1,106 L224.6,105.9 L225.1,105.9 L225.6,105.8 L226.1,105.8 L226.6,105.7 L227.1,105.7 L227.6,105.6 L228.1,105.5 L228.6,105.4 L229.1,105.4 L229.6,105.3 L230.1,105.2 L230.6,105.1 L231.1,105 L231.6,105 L232.1,104.9 L232.6,104.8 L233.1,104.7 L233.6,104.6 L234.1,104.5 L234.6,104.5 L235.1,104.4 L235.6,104.3 L236.1,104.2 L236.6,104.1 L237.1,104.1 L237.6,104 L238.1,103.9 L238.6,103.9 L239.1,103.8 L239.6,103.7 L240.1,103.7 L240.6,103.6 L241.1,103.5 L241.6,103.5 L242.1,103.4 L242.6,103.3 L243.1,103.3 L243.6,103.2 L244.1,103.2 L244.6,103.1 L245.1,103.1 L245.6,103 L246.1,102.9 L246.6,102.9 L247.1,102.8 L247.6,102.8 L248.1,102.7 L248.6,102.7 L249.1,102.6 L249.6,102.6 L250.1,102.5 L250.6,102.5 L251.1,102.5 L251.6,102.4 L252.1,102.4 L252.6,102.3 L253.1,102.3 L253.6,102.3 L254.1,102.2 L254.6,102.2 L255.1,102.2 L255.6,102.1 L256.1,102.1 L256.6,102.1 L257.1,102.1 L257.6,102 L258.1,102 L258.6,102 L259.1,101.9 L259.6,101.9 L260.1,101.9 L260.6,101.8 L261.1,101.8 L261.6,101.8 L262.1,101.8 L262.6,101.7 L263.1,101.7 L263.6,101.7 L264.1,101.6 L264.6,101.6 L265.1,101.6 L265.6,101.5 L266.1,101.5 L266.6,101.5 L267.1,101.4 L267.6,101.4 L268.1,101.4 L268.6,101.4 L269.1,101.3 L269.6,101.3 L270.1,101.3 L270.6,101.2 L271.1,101.2 L271.6,101.2 L272.1,101.1 L272.6,101.1 L273.1,101.1 L273.6,101.1 L274.1,101 L274.6,101 L275.1,101 L275.6,100.9 L276.1,100.9 L276.6,100.9 L277.1,100.9 L277.6,100.8 L278.1,100.8 L278.6,100.8 L279.1,100.8 L279.6,100.7 L280.1,100.7 L280.6,100.7 L281.1,100.7 L281.6,100.6 L282.1,100.6 L282.6,100.6 L283.1,100.6 L283.6,100.5 L284.1,100.5 L284.6,100.5 L285.1,100.4 L285.6,100.4 L286.1,100.4 L286.6,100.3 L287.1,100.3 L287.6,100.3 L288.1,100.2 L288.6,100.2 L289.1,100.1 L289.6,100.1 L290.1,100 L290.6,99.9 L291.1,99.9 L291.6,99.8 L292.1,99.7 L292.6,99.7 L293.1,99.6 L293.6,99.6 L294.1,99.5 L294.6,99.4 L295.1,99.4 L295.6,99.3 L296.1,99.2 L296.6,99.2 L297.1,99.1 L297.6,99.1 L298.1,99 L298.6,99 L299.1,98.9 L299.6,98.9 L300.1,98.9 L300.6,98.8 L301.1,98.8 L301.6,98.8 L302.1,98.7 L302.6,98.7 L303.1,98.7 L303.6,98.6 L304.1,98.6 L304.6,98.6 L305.1,98.6 L305.6,98.5 L306.1,98.5 L306.6,98.5 L307.1,98.4 L307.6,98.4 L308.1,98.4 L308.6,98.4 L309.1,98.3 L309.6,98.3 L310.1,98.3 L310.6,98.3 L311.1,98.2 L311.6,98.2 L312.1,98.2 L312.6,98.2 L313.1,98.1 L313.6,98.1 L314.1,98.1 L314.6,98 L315.1,98 L315.6,98 L316.1,98 L316.6,97.9 L317.1,97.9 L317.6,97.9 L318.1,97.9 L318.6,97.8 L319.1,97.8 L319.6,97.8 L320.1,97.7 L320.6,97.7 L321.1,97.7 L321.6,97.7 L322.1,97.6 L322.6,97.6 L323.1,97.6 L323.6,97.5 L324.1,97.5 L324.6,97.5 L325.1,97.4 L325.6,97.4 L326.1,97.4 L326.6,97.4 L327.1,97.3 L327.6,97.3 L328.1,97.3 L328.6,97.2 L329.1,97.2 L329.6,97.2 L330.1,97.1 L330.6,97.1 L331.1,97.1 L331.6,97.1 L332.1,97 L332.6,97 L333.1,97 L333.6,96.9 L334.1,96.9 L334.6,96.8 L335.1,96.8 L335.6,96.8 L336.1,96.7 L336.6,96.7 L337.1,96.6 L337.6,96.6 L338.1,96.6 L338.6,96.5 L339.1,96.5 L339.6,96.4 L340.1,96.3 L340.6,96.3 L341.1,96.2 L341.6,96.2 L342.1,96.1 L342.6,96 L343.1,96 L343.6,95.9 L344.1,95.9 L344.6,95.8 L345.1,95.7 L345.6,95.7 L346.1,95.6 L346.6,95.6 L347.1,95.5 L347.6,95.5 L348.1,95.5 L348.6,95.4 L349.1,95.4 L349.6,95.4 L350.1,95.3 L350.6,95.3 L351.1,95.3 L351.6,95.2 L352.1,95.2 L352.6,95.2 L353.1,95.1 L353.6,95.1 L354.1,95.1 L354.6,95.1 L355.1,95 L355.6,95 L356.1,95 L356.6,95 L357.1,95 L357.6,94.9 L358.1,94.9 L358.6,94.9 L359.1,94.9 L359.6,94.9 L360.1,94.8 L360.6,94.8 L361.1,94.8 L361.6,94.8 L362.1,94.8 L362.6,94.8 L363.1,94.7 L363.6,94.7 L364.1,94.7 L364.6,94.7 L365.1,94.7 L365.6,94.7 L366.1,94.7 L366.6,94.7 L367.1,94.7 L367.6,94.7 L368.1,94.6 L368.6,94.6 L369.1,94.6 L369.6,94.6 L370.1,94.6 L370.6,94.6 L371.1,94.6 L371.6,94.6 L372.1,94.6 L372.6,94.5 L373.1,94.5 L373.6,94.5 L374.1,94.5 L374.6,94.5 L375.1,94.5 L375.6,94.4 L376.1,94.4 L376.6,94.4 L377.1,94.4 L377.6,94.3 L378.1,94.3 L378.6,94.3 L379.1,94.2 L379.6,94.2 L380.1,94.1 L380.6,94.1 L381.1,94.1 L381.6,94 L382.1,94 L382.6,94 L383.1,93.9 L383.6,93.9 L384.1,93.8 L384.6,93.8 L385.1,93.8 L385.6,93.7 L386.1,93.7 L386.6,93.7 L387.1,93.6 L387.6,93.6 L388.1,93.5 L388.6,93.5 L389.1,93.4 L389.6,93.4 L390.1,93.4 L390.6,93.3 L391.1,93.3 L391.6,93.2 L392.1,93.2 L392.6,93.1 L393.1,93.1 L393.6,93 L394.1,93 L394.6,93 L395.1,92.9 L395.6,92.9 L396.1,92.8 L396.6,92.8 L397.1,92.8 L397.6,92.7 L398.1,92.7 L398.6,92.7 L399.1,92.7 L399.6,92.7 L400.1,92.6 L400.6,92.6 L401.1,92.6 L401.6,92.6 L402.1,92.6 L402.6,92.5 L403.1,92.5 L403.6,92.5 L404.1,92.5 L404.6,92.5 L405.1,92.5 L405.6,92.5 L406.1,92.4 L406.6,92.4 L407.1,92.4 L407.6,92.4 L408.1,92.4 L408.6,92.4 L409.1,92.4 L409.6,92.3 L410.1,92.3 L410.6,92.3 L411.1,92.3 L411.6,92.3 L412.1,92.3 L412.6,92.2 L413.1,92.2 L413.6,92.2 L414.1,92.2 L414.6,92.2 L415.1,92.1 L415.6,92.1 L416.1,92.1 L416.6,92.1 L417.1,92.1 L417.6,92 L418.1,92 L418.6,92 L419.1,92 L419.6,92 L420.1,91.9 L420.6,91.9 L421.1,91.9 L421.6,91.9 L422.1,91.8 L422.6,91.8 L423.1,91.8 L423.6,91.8 L424.1,91.8 L424.6,91.7 L425.1,91.7 L425.6,91.7 L426.1,91.6 L426.6,91.6 L427.1,91.6 L427.6,91.6 L428.1,91.5 L428.6,91.5 L429.1,91.5 L429.6,91.4 L430.1,91.4 L430.6,91.4 L431.1,91.3 L431.6,91.3 L432.1,91.3 L432.6,91.2 L433.1,91.2 L433.6,91.2 L434.1,91.2 L434.6,91.1 L435.1,91.1 L435.6,91.1 L436.1,91.1 L436.6,91 L437.1,91 L437.6,91 L438.1,91 L438.6,90.9 L439.1,90.9 L439.6,90.9 L440.1,90.9 L440.6,90.8 L441.1,90.8 L441.6,90.8 L442.1,90.8 L442.6,90.8 L443.1,90.7 L443.6,90.7 L444.1,90.7 L444.6,90.7 L445.1,90.7 L445.6,90.6 L446.1,90.6 L446.6,90.6 L447.1,90.6 L447.6,90.6 L448.1,90.6 L448.6,90.6 L449.1,90.6 L449.6,90.6 L450.1,90.6 L450.6,90.6 L451.1,90.6 L451.6,90.6 L452.1,90.6 L452.6,90.6 L453.1,90.6 L453.6,90.6 L454.1,90.5 L454.6,90.5 L455.1,90.5 L455.6,90.5 L456.1,90.5 L456.6,90.5 L457.1,90.5 L457.6,90.5 L458.1,90.5 L458.6,90.5 L459.1,90.5 L459.6,90.5 L460.1,90.5 L460.6,90.5 L461.1,90.5 L461.6,90.4 L462.1,90.4 L462.6,90.4 L463.1,90.4 L463.6,90.3 L464.1,90.3 L464.6,90.3 L465.1,90.2 L465.6,90.2 L466.1,90.2 L466.6,90.1 L467.1,90.1 L467.6,90 L468.1,90 L468.6,89.9 L469.1,89.9 L469.6,89.9 L470.1,89.8 L470.6,89.8 L471.1,89.8 L471.6,89.7 L472.1,89.7 L472.6,89.7 L473.1,89.6 L473.6,89.6 L474.1,89.6 L474.6,89.5 L475.1,89.5 L475.6,89.5 L476.1,89.4 L476.6,89.4 L477.1,89.4 L477.6,89.4 L478.1,89.3 L478.6,89.3 L479.1,89.3 L479.6,89.2 L480.1,89.2 L480.6,89.2 L481.1,89.2 L481.6,89.1 L482.1,89.1 L482.6,89.1 L483.1,89.1 L483.6,89 L484.1,89 L484.6,89 L485.1,89 L485.6,88.9 L486.1,88.9 L486.6,88.9 L487.1,88.9 L487.6,88.9 L488.1,88.9 L488.6,88.8 L489.1,88.8 L489.6,88.8 L490.1,88.8 L490.6,88.8 L491.1,88.8 L491.6,88.7 L492.1,88.7 L492.6,88.7 L493.1,88.7 L493.6,88.7 L494.1,88.7 L494.6,88.6 L495.1,88.6 L495.6,88.6 L496.1,88.6 L496.6,88.6 L497.1,88.6 L497.6,88.6 L498.1,88.6 L498.6,88.6 L499.1,88.5 L499.6,88.5 L500.1,88.5 L500.6,88.5 L501.1,88.5 L501.6,88.5 L502.1,88.5 L502.6,88.5 L503.1,88.5 L503.6,88.5 L504.1,88.5 L504.6,88.5 L505.1,88.4 L505.6,88.4 L506.1,88.4 L506.6,88.4 L507.1,88.4 L507.6,88.4 L508.1,88.4 L508.6,88.4 L509,88.4" fill="none" stroke="#2a2af5" stroke-width="1.3" stroke-linejoin="round"/><path d="M66.2,116h0M78.5,115.2h0M90.8,114.1h0M103.1,113h0M115.4,112h0M127.7,110.9h0M140,110.6h0M152.3,110.3h0M164.6,109.4h0M176.9,108.6h0M189.2,108h0M201.5,107.4h0M213.8,106.9h0M226.1,105.8h0M238.4,103.9h0M250.7,102.5h0M263,101.7h0M275.3,101h0M287.6,100.3h0M299.9,98.9h0M312.2,98.2h0M324.5,97.5h0M336.8,96.7h0M349.1,95.4h0M361.4,94.8h0M373.7,94.5h0M386,93.7h0M398.3,92.7h0M410.6,92.3h0M422.9,91.8h0M435.2,91.1h0M447.5,90.6h0M459.8,90.5h0M472.1,89.7h0M484.4,89h0M496.7,88.6h0M509,88.4h0" stroke="#2a2af5" stroke-width="3.2" stroke-linecap="round" fill="none"/></g>
<path d="M150,110.4 L150.5,110.3 L151,110.3 L151.5,110.3 L152,110.3 L152.5,110.3 L153,110.3 L153.5,110.2 L154,110.2 L154.5,110.2 L155,110.2 L155.5,110.2 L156,110.1 L156.5,110.1 L157,110.1 L157.5,110 L158,110 L158.5,109.9 L159,109.9 L159.5,109.9 L160,109.8 L160.5,109.8 L161,109.7 L161.5,109.7 L162,109.6 L162.5,109.6 L163,109.5 L163.5,109.5 L164,109.4 L164.5,109.4 L165,109.3 L165.5,109.3 L166,109.2 L166.5,109.2 L167,109.2 L167.5,109.1 L168,109.1 L168.5,109 L169,109 L169.5,109 L170,108.9 L170.5,108.9 L171,108.9 L171.5,108.9 L172,108.8 L172.5,108.8 L173,108.8 L173.5,108.8 L174,108.7 L174.5,108.7 L175,108.7 L175.5,108.7 L176,108.6 L176.5,108.6 L177,108.6 L177.5,108.6 L178,108.6 L178.5,108.5 L179,108.5 L179.5,108.5 L180,108.5 L180.5,108.4 L181,108.4 L181.5,108.4 L182,108.4 L182.5,108.4 L183,108.3 L183.5,108.3 L184,108.3 L184.5,108.3 L185,108.2 L185.5,108.2 L186,108.2 L186.5,108.1 L187,108.1 L187.5,108.1 L188,108.1 L188.5,108 L189,108 L189.5,108 L190,107.9 L190.5,107.9 L191,107.9 L191.5,107.9 L192,107.8 L192.5,107.8 L193,107.8 L193.5,107.7 L194,107.7 L194.5,107.7 L195,107.7 L195.5,107.6 L196,107.6 L196.5,107.6 L197,107.6 L197.5,107.5 L198,107.5 L198.5,107.5 L199,107.5 L199.5,107.4 L200,107.4 L200.5,107.4 L201,107.4 L201.5,107.4 L202,107.3 L202.5,107.3 L203,107.3 L203.5,107.3 L204,107.3 L204.5,107.2 L205,107.2 L205.5,107.2 L206,107.2 L206.5,107.2 L207,107.2 L207.5,107.1 L208,107.1 L208.5,107.1 L209,107.1 L209.5,107.1 L210,107 L210.5,107 L211,107 L211.5,107 L212,107 L212.5,106.9 L213,106.9 L213.5,106.9 L214,106.9 L214.5,106.8 L215,106.8 L215.5,106.8 L216,106.7 L216.5,106.7 L217,106.7 L217.5,106.6 L218,106.6 L218.5,106.5 L219,106.5 L219.5,106.5 L220,106.4 L220.5,106.4 L221,106.3 L221.5,106.3 L222,106.2" fill="none" stroke="#2a2af5" stroke-width="2.8" clip-path="url(#c0)"/>
<g clip-path="url(#c1)"><path d="M67,186.5 L69.4,186.5 L71.7,186.5 L74.1,186.5 L76.4,186.6 L78.8,186.6 L81.1,186.6 L83.5,186.6 L85.8,186.7 L88.2,186.7 L90.5,186.7 L92.9,186.8 L95.2,186.9 L97.6,186.9 L99.9,187 L102.3,187.3 L104.6,187.7 L107,188.3 L109.3,189.3 L111.7,191.4 L114,194.2 L116.4,198.7 L118.7,206.9 L121.1,218.7 L123.4,229.6 L125.8,238.4 L128.1,242.5 L130.5,244.2 L132.8,244.8 L135.2,243.5 L137.5,239.9 L139.9,232.9 L142.2,222.9 L144.6,211.3 L146.9,201.4 L149.3,196 L151.6,192.7 L154,190.7 L156.3,189.4 L158.7,188.7 L161,188.3 L163.4,188 L165.7,187.8 L168.1,187.6 L170.4,187.4 L172.8,187.3 L175.1,187.2 L177.5,187.2 L179.8,187.3 L182.2,187.5 L184.5,187.9 L186.8,188.6 L189.2,190 L191.5,193.4 L193.9,220.2 L196.2,252.9 L198.6,256.2 L200.9,257.4 L203.3,258.1 L205.6,258.6 L208,258.7 L210.3,258.4 L212.7,257.8 L215,256.9 L217.4,255.2 L219.7,252.7 L222.1,248.3 L224.4,242.7 L226.8,234.5 L229.1,222.3 L231.5,212.9 L233.8,208.5 L236.2,207.5 L238.5,210.2 L240.9,214.7 L243.2,225 L245.6,237.5 L247.9,247.2 L250.3,251.9 L252.6,254.1 L255,255.5 L257.3,256.4 L259.7,257.1 L262,257.7 L264.4,258.3 L266.7,258.7 L269.1,259 L271.4,259.2 L273.8,259.4 L276.1,259.6 L278.5,259.8 L280.8,259.9 L283.2,260 L285.5,260 L287.9,260 L290.2,260 L292.6,260 L294.9,260 L297.3,259.9 L299.6,259.9 L301.9,259.9 L304.3,259.8 L306.6,259.7 L309,259.5 L311.3,259.3 L313.7,259 L316,258.5 L318.4,257.8 L320.7,256.9 L323.1,255.6 L325.4,253.4 L327.8,245.5 L330.1,219.7 L332.5,201 L334.8,194.3 L337.2,193 L339.5,193 L341.9,194.2 L344.2,196.7 L346.6,200.8 L348.9,206.6 L351.3,214.3 L353.6,222.6 L356,227.7 L358.3,228.8 L360.7,226.2 L363,219.4 L365.4,212.9 L367.7,206.7 L370.1,201.1 L372.4,197 L374.8,194.2 L377.1,192.5 L379.5,191.4 L381.8,190.7 L384.2,190.2 L386.5,189.9 L388.9,189.7 L391.2,189.6 L393.6,189.4 L395.9,189.3 L398.3,189.3 L400.6,189.3 L403,189.4 L405.3,189.5 L407.7,189.7 L410,189.8 L412.4,190.1 L414.7,190.7 L417.1,191.4 L419.4,192.4 L421.7,193.5 L424.1,195.3 L426.4,197.6 L428.8,201.1 L431.1,206.1 L433.5,213.6 L435.8,220.6 L438.2,226.9 L440.5,232.2 L442.9,235.9 L445.2,238.1 L447.6,238.2 L449.9,236 L452.3,231.3 L454.6,223.9 L457,215.8 L459.3,207.7 L461.7,201.1 L464,196.2 L466.4,193.7 L468.7,192.1 L471.1,191.3 L473.4,190.8 L475.8,190.4 L478.1,190.1 L480.5,189.9 L482.8,189.9 L485.2,190 L487.5,190.2 L489.9,190.5 L492.2,191.2 L494.6,192.6 L496.9,196.5 L499.3,206.1 L501.6,223.6 L504,244.3 L506.3,250 L508.7,252.7 L511,254.1 L513.4,255.1 L515.7,255.7 L518.1,256 L520.4,256.1 L522.8,256.2 L525.1,256.1 L527.5,255.9 L529.8,255.5 L532.2,254.7 L534.5,253.9" fill="none" stroke="#141414" stroke-width="1.1" stroke-linejoin="round"/><path d="M67,186.5h0M69.4,186.5h0M71.7,186.5h0M74.1,186.5h0M76.4,186.6h0M78.8,186.6h0M81.1,186.6h0M83.5,186.6h0M85.8,186.7h0M88.2,186.7h0M90.5,186.7h0M92.9,186.8h0M95.2,186.9h0M97.6,186.9h0M99.9,187h0M102.3,187.3h0M104.6,187.7h0M107,188.3h0M109.3,189.3h0M111.7,191.4h0M114,194.2h0M116.4,198.7h0M118.7,206.9h0M121.1,218.7h0M123.4,229.6h0M125.8,238.4h0M128.1,242.5h0M130.5,244.2h0M132.8,244.8h0M135.2,243.5h0M137.5,239.9h0M139.9,232.9h0M142.2,222.9h0M144.6,211.3h0M146.9,201.4h0M149.3,196h0M151.6,192.7h0M154,190.7h0M156.3,189.4h0M158.7,188.7h0M161,188.3h0M163.4,188h0M165.7,187.8h0M168.1,187.6h0M170.4,187.4h0M172.8,187.3h0M175.1,187.2h0M177.5,187.2h0M179.8,187.3h0M182.2,187.5h0M184.5,187.9h0M186.8,188.6h0M189.2,190h0M191.5,193.4h0M193.9,220.2h0M196.2,252.9h0M198.6,256.2h0M200.9,257.4h0M203.3,258.1h0M205.6,258.6h0M208,258.7h0M210.3,258.4h0M212.7,257.8h0M215,256.9h0M217.4,255.2h0M219.7,252.7h0M222.1,248.3h0M224.4,242.7h0M226.8,234.5h0M229.1,222.3h0M231.5,212.9h0M233.8,208.5h0M236.2,207.5h0M238.5,210.2h0M240.9,214.7h0M243.2,225h0M245.6,237.5h0M247.9,247.2h0M250.3,251.9h0M252.6,254.1h0M255,255.5h0M257.3,256.4h0M259.7,257.1h0M262,257.7h0M264.4,258.3h0M266.7,258.7h0M269.1,259h0M271.4,259.2h0M273.8,259.4h0M276.1,259.6h0M278.5,259.8h0M280.8,259.9h0M283.2,260h0M285.5,260h0M287.9,260h0M290.2,260h0M292.6,260h0M294.9,260h0M297.3,259.9h0M299.6,259.9h0M301.9,259.9h0M304.3,259.8h0M306.6,259.7h0M309,259.5h0M311.3,259.3h0M313.7,259h0M316,258.5h0M318.4,257.8h0M320.7,256.9h0M323.1,255.6h0M325.4,253.4h0M327.8,245.5h0M330.1,219.7h0M332.5,201h0M334.8,194.3h0M337.2,193h0M339.5,193h0M341.9,194.2h0M344.2,196.7h0M346.6,200.8h0M348.9,206.6h0M351.3,214.3h0M353.6,222.6h0M356,227.7h0M358.3,228.8h0M360.7,226.2h0M363,219.4h0M365.4,212.9h0M367.7,206.7h0M370.1,201.1h0M372.4,197h0M374.8,194.2h0M377.1,192.5h0M379.5,191.4h0M381.8,190.7h0M384.2,190.2h0M386.5,189.9h0M388.9,189.7h0M391.2,189.6h0M393.6,189.4h0M395.9,189.3h0M398.3,189.3h0M400.6,189.3h0M403,189.4h0M405.3,189.5h0M407.7,189.7h0M410,189.8h0M412.4,190.1h0M414.7,190.7h0M417.1,191.4h0M419.4,192.4h0M421.7,193.5h0M424.1,195.3h0M426.4,197.6h0M428.8,201.1h0M431.1,206.1h0M433.5,213.6h0M435.8,220.6h0M438.2,226.9h0M440.5,232.2h0M442.9,235.9h0M445.2,238.1h0M447.6,238.2h0M449.9,236h0M452.3,231.3h0M454.6,223.9h0M457,215.8h0M459.3,207.7h0M461.7,201.1h0M464,196.2h0M466.4,193.7h0M468.7,192.1h0M471.1,191.3h0M473.4,190.8h0M475.8,190.4h0M478.1,190.1h0M480.5,189.9h0M482.8,189.9h0M485.2,190h0M487.5,190.2h0M489.9,190.5h0M492.2,191.2h0M494.6,192.6h0M496.9,196.5h0M499.3,206.1h0M501.6,223.6h0M504,244.3h0M506.3,250h0M508.7,252.7h0M511,254.1h0M513.4,255.1h0M515.7,255.7h0M518.1,256h0M520.4,256.1h0M522.8,256.2h0M525.1,256.1h0M527.5,255.9h0M529.8,255.5h0M532.2,254.7h0M534.5,253.9h0" stroke="#141414" stroke-width="3.0" stroke-linecap="round" fill="none"/></g>
<g clip-path="url(#c1)"><path d="M65.6,244.6 L66.1,244.4 L66.6,244.2 L67.1,244 L67.6,243.8 L68.1,243.6 L68.6,243.3 L69.1,243.1 L69.6,242.9 L70.1,242.7 L70.6,242.4 L71.1,242.2 L71.6,242 L72.1,241.7 L72.6,241.5 L73.1,241.3 L73.6,241 L74.1,240.8 L74.6,240.5 L75.1,240.3 L75.6,240 L76.1,239.8 L76.6,239.5 L77.1,239.2 L77.6,239 L78.1,238.7 L78.6,238.4 L79.1,238.2 L79.6,237.9 L80.1,237.6 L80.6,237.3 L81.1,237 L81.6,236.8 L82.1,236.5 L82.6,236.2 L83.1,235.9 L83.6,235.6 L84.1,235.3 L84.6,235 L85.1,234.7 L85.6,234.4 L86.1,234 L86.6,233.7 L87.1,233.4 L87.6,233.1 L88.1,232.7 L88.6,232.4 L89.1,232 L89.6,231.7 L90.1,231.3 L90.6,231 L91.1,230.6 L91.6,230.2 L92.1,229.8 L92.6,229.4 L93.1,228.9 L93.6,228.5 L94.1,228.1 L94.6,227.6 L95.1,227.2 L95.6,226.7 L96.1,226.2 L96.6,225.8 L97.1,225.3 L97.6,224.8 L98.1,224.4 L98.6,223.9 L99.1,223.4 L99.6,223 L100.1,222.5 L100.6,222.1 L101.1,221.6 L101.6,221.2 L102.1,220.8 L102.6,220.4 L103.1,220 L103.6,219.6 L104.1,219.2 L104.6,218.8 L105.1,218.4 L105.6,218.1 L106.1,217.7 L106.6,217.3 L107.1,217 L107.6,216.6 L108.1,216.3 L108.6,215.9 L109.1,215.6 L109.6,215.2 L110.1,214.9 L110.6,214.5 L111.1,214.1 L111.6,213.8 L112.1,213.4 L112.6,213.1 L113.1,212.7 L113.6,212.3 L114.1,212 L114.6,211.6 L115.1,211.2 L115.6,210.8 L116.1,210.4 L116.6,210 L117.1,209.6 L117.6,209.2 L118.1,208.8 L118.6,208.4 L119.1,207.9 L119.6,207.5 L120.1,207.1 L120.6,206.7 L121.1,206.3 L121.6,205.8 L122.1,205.4 L122.6,205 L123.1,204.6 L123.6,204.2 L124.1,203.7 L124.6,203.3 L125.1,202.9 L125.6,202.5 L126.1,202.1 L126.6,201.7 L127.1,201.3 L127.6,200.9 L128.1,200.6 L128.6,200.2 L129.1,199.8 L129.6,199.5 L130.1,199.1 L130.6,198.7 L131.1,198.4 L131.6,198 L132.1,197.6 L132.6,197.3 L133.1,196.9 L133.6,196.6 L134.1,196.2 L134.6,195.9 L135.1,195.5 L135.6,195.2 L136.1,194.8 L136.6,194.5 L137.1,194.1 L137.6,193.8 L138.1,193.5 L138.6,193.1 L139.1,192.8 L139.6,192.4 L140.1,192.1 L140.6,191.8 L141.1,191.4 L141.6,191.1 L142.1,190.7 L142.6,190.4 L143.1,190.1 L143.6,189.7 L144.1,189.4 L144.6,189.1 L145.1,188.7 L145.6,188.4 L146.1,188.1 L146.6,187.7 L147.1,187.4 L147.6,187.1 L148.1,186.8 L148.6,186.5 L149.1,186.2 L149.6,185.9 L150.1,185.6 L150.6,185.3 L151.1,185 L151.6,184.7 L152.1,184.4 L152.6,184.2 L153.1,183.9 L153.6,183.6 L154.1,183.4 L154.6,183.1 L155.1,182.8 L155.6,182.6 L156.1,182.3 L156.6,182.1 L157.1,181.8 L157.6,181.6 L158.1,181.3 L158.6,181.1 L159.1,180.9 L159.6,180.6 L160.1,180.4 L160.6,180.2 L161.1,180 L161.6,179.8 L162.1,179.5 L162.6,179.3 L163.1,179.1 L163.6,178.9 L164.1,178.7 L164.6,178.6 L165.1,178.4 L165.6,178.2 L166.1,178 L166.6,177.9 L167.1,177.7 L167.6,177.5 L168.1,177.3 L168.6,177.2 L169.1,177 L169.6,176.9 L170.1,176.7 L170.6,176.6 L171.1,176.4 L171.6,176.3 L172.1,176.1 L172.6,176 L173.1,175.8 L173.6,175.7 L174.1,175.6 L174.6,175.4 L175.1,175.3 L175.6,175.2 L176.1,175.1 L176.6,175 L177.1,174.8 L177.6,174.7 L178.1,174.6 L178.6,174.5 L179.1,174.4 L179.6,174.2 L180.1,174.1 L180.6,174 L181.1,173.9 L181.6,173.8 L182.1,173.7 L182.6,173.6 L183.1,173.5 L183.6,173.4 L184.1,173.3 L184.6,173.2 L185.1,173.1 L185.6,173 L186.1,172.9 L186.6,172.9 L187.1,172.8 L187.6,172.7 L188.1,172.7 L188.6,172.6 L189.1,172.6 L189.6,172.5 L190.1,172.5 L190.6,172.4 L191.1,172.4 L191.6,172.3 L192.1,172.3 L192.6,172.2 L193.1,172.2 L193.6,172.1 L194.1,172.1 L194.6,172 L195.1,172 L195.6,171.9 L196.1,171.9 L196.6,171.9 L197.1,171.8 L197.6,171.8 L198.1,171.8 L198.6,171.8 L199.1,171.7 L199.6,171.7 L200.1,171.7 L200.6,171.7 L201.1,171.7 L201.6,171.7 L202.1,171.7 L202.6,171.7 L203.1,171.7 L203.6,171.7 L204.1,171.7 L204.6,171.8 L205.1,171.8 L205.6,171.8 L206.1,171.8 L206.6,171.8 L207.1,171.9 L207.6,171.9 L208.1,171.9 L208.6,172 L209.1,172 L209.6,172 L210.1,172.1 L210.6,172.1 L211.1,172.1 L211.6,172.2 L212.1,172.2 L212.6,172.2 L213.1,172.3 L213.6,172.3 L214.1,172.3 L214.6,172.4 L215.1,172.4 L215.6,172.5 L216.1,172.5 L216.6,172.6 L217.1,172.6 L217.6,172.7 L218.1,172.7 L218.6,172.8 L219.1,172.8 L219.6,172.9 L220.1,173 L220.6,173 L221.1,173.1 L221.6,173.2 L222.1,173.2 L222.6,173.3 L223.1,173.4 L223.6,173.4 L224.1,173.5 L224.6,173.6 L225.1,173.6 L225.6,173.7 L226.1,173.8 L226.6,173.9 L227.1,173.9 L227.6,174 L228.1,174.1 L228.6,174.2 L229.1,174.2 L229.6,174.3 L230.1,174.4 L230.6,174.5 L231.1,174.6 L231.6,174.7 L232.1,174.8 L232.6,174.8 L233.1,174.9 L233.6,175 L234.1,175.1 L234.6,175.2 L235.1,175.3 L235.6,175.4 L236.1,175.5 L236.6,175.6 L237.1,175.6 L237.6,175.7 L238.1,175.8 L238.6,175.9 L239.1,176 L239.6,176.1 L240.1,176.2 L240.6,176.3 L241.1,176.4 L241.6,176.4 L242.1,176.5 L242.6,176.6 L243.1,176.7 L243.6,176.8 L244.1,176.9 L244.6,177 L245.1,177.1 L245.6,177.2 L246.1,177.3 L246.6,177.4 L247.1,177.5 L247.6,177.6 L248.1,177.6 L248.6,177.7 L249.1,177.8 L249.6,177.9 L250.1,178 L250.6,178.1 L251.1,178.2 L251.6,178.3 L252.1,178.4 L252.6,178.5 L253.1,178.6 L253.6,178.7 L254.1,178.8 L254.6,178.9 L255.1,179 L255.6,179 L256.1,179.1 L256.6,179.2 L257.1,179.3 L257.6,179.4 L258.1,179.5 L258.6,179.6 L259.1,179.7 L259.6,179.8 L260.1,179.9 L260.6,180 L261.1,180 L261.6,180.1 L262.1,180.2 L262.6,180.3 L263.1,180.4 L263.6,180.5 L264.1,180.6 L264.6,180.6 L265.1,180.7 L265.6,180.8 L266.1,180.9 L266.6,181 L267.1,181 L267.6,181.1 L268.1,181.2 L268.6,181.3 L269.1,181.4 L269.6,181.4 L270.1,181.5 L270.6,181.6 L271.1,181.7 L271.6,181.7 L272.1,181.8 L272.6,181.9 L273.1,182 L273.6,182 L274.1,182.1 L274.6,182.2 L275.1,182.2 L275.6,182.3 L276.1,182.4 L276.6,182.4 L277.1,182.5 L277.6,182.6 L278.1,182.6 L278.6,182.7 L279.1,182.7 L279.6,182.8 L280.1,182.9 L280.6,182.9 L281.1,183 L281.6,183 L282.1,183.1 L282.6,183.2 L283.1,183.2 L283.6,183.3 L284.1,183.3 L284.6,183.4 L285.1,183.4 L285.6,183.5 L286.1,183.5 L286.6,183.6 L287.1,183.6 L287.6,183.7 L288.1,183.7 L288.6,183.7 L289.1,183.8 L289.6,183.8 L290.1,183.8 L290.6,183.9 L291.1,183.9 L291.6,184 L292.1,184 L292.6,184 L293.1,184.1 L293.6,184.1 L294.1,184.1 L294.6,184.2 L295.1,184.2 L295.6,184.2 L296.1,184.2 L296.6,184.3 L297.1,184.3 L297.6,184.3 L298.1,184.4 L298.6,184.4 L299.1,184.4 L299.6,184.5 L300.1,184.5 L300.6,184.6 L301.1,184.6 L301.6,184.6 L302.1,184.7 L302.6,184.7 L303.1,184.8 L303.6,184.8 L304.1,184.9 L304.6,184.9 L305.1,184.9 L305.6,185 L306.1,185 L306.6,185.1 L307.1,185.1 L307.6,185.1 L308.1,185.2 L308.6,185.2 L309.1,185.3 L309.6,185.3 L310.1,185.3 L310.6,185.3 L311.1,185.4 L311.6,185.4 L312.1,185.4 L312.6,185.4 L313.1,185.5 L313.6,185.5 L314.1,185.5 L314.6,185.5 L315.1,185.5 L315.6,185.5 L316.1,185.6 L316.6,185.6 L317.1,185.6 L317.6,185.6 L318.1,185.6 L318.6,185.6 L319.1,185.6 L319.6,185.7 L320.1,185.7 L320.6,185.7 L321.1,185.7 L321.6,185.7 L322.1,185.7 L322.6,185.7 L323.1,185.8 L323.6,185.8 L324.1,185.8 L324.6,185.8 L325.1,185.8 L325.6,185.8 L326.1,185.9 L326.6,185.9 L327.1,185.9 L327.6,185.9 L328.1,185.9 L328.6,185.9 L329.1,186 L329.6,186 L330.1,186 L330.6,186 L331.1,186 L331.6,186.1 L332.1,186.1 L332.6,186.1 L333.1,186.1 L333.6,186.1 L334.1,186.2 L334.6,186.2 L335.1,186.2 L335.6,186.2 L336.1,186.2 L336.6,186.3 L337.1,186.3 L337.6,186.3 L338.1,186.3 L338.6,186.3 L339.1,186.4 L339.6,186.4 L340.1,186.4 L340.6,186.4 L341.1,186.4 L341.6,186.5 L342.1,186.5 L342.6,186.5 L343.1,186.5 L343.6,186.5 L344.1,186.6 L344.6,186.6 L345.1,186.6 L345.6,186.6 L346.1,186.6 L346.6,186.7 L347.1,186.7 L347.6,186.7 L348.1,186.7 L348.6,186.8 L349.1,186.8 L349.6,186.8 L350.1,186.8 L350.6,186.9 L351.1,186.9 L351.6,186.9 L352.1,187 L352.6,187 L353.1,187 L353.6,187.1 L354.1,187.1 L354.6,187.1 L355.1,187.2 L355.6,187.2 L356.1,187.2 L356.6,187.3 L357.1,187.3 L357.6,187.3 L358.1,187.4 L358.6,187.4 L359.1,187.4 L359.6,187.4 L360.1,187.5 L360.6,187.5 L361.1,187.5 L361.6,187.5 L362.1,187.5 L362.6,187.5 L363.1,187.5 L363.6,187.5 L364.1,187.6 L364.6,187.6 L365.1,187.6 L365.6,187.6 L366.1,187.6 L366.6,187.6 L367.1,187.6 L367.6,187.6 L368.1,187.6 L368.6,187.6 L369.1,187.6 L369.6,187.6 L370.1,187.6 L370.6,187.6 L371.1,187.6 L371.6,187.7 L372.1,187.7 L372.6,187.7 L373.1,187.7 L373.6,187.7 L374.1,187.7 L374.6,187.7 L375.1,187.7 L375.6,187.7 L376.1,187.8 L376.6,187.8 L377.1,187.8 L377.6,187.8 L378.1,187.8 L378.6,187.8 L379.1,187.9 L379.6,187.9 L380.1,187.9 L380.6,187.9 L381.1,187.9 L381.6,188 L382.1,188 L382.6,188 L383.1,188 L383.6,188 L384.1,188.1 L384.6,188.1 L385.1,188.1 L385.6,188.1 L386.1,188.1 L386.6,188.1 L387.1,188.1 L387.6,188.1 L388.1,188.1 L388.6,188.2 L389.1,188.2 L389.6,188.2 L390.1,188.2 L390.6,188.2 L391.1,188.2 L391.6,188.2 L392.1,188.2 L392.6,188.2 L393.1,188.2 L393.6,188.2 L394.1,188.2 L394.6,188.2 L395.1,188.3 L395.6,188.3 L396.1,188.3 L396.6,188.3 L397.1,188.3 L397.6,188.3 L398.1,188.3 L398.6,188.3 L399.1,188.3 L399.6,188.3 L400.1,188.3 L400.6,188.3 L401.1,188.3 L401.6,188.4 L402.1,188.4 L402.6,188.4 L403.1,188.4 L403.6,188.4 L404.1,188.4 L404.6,188.4 L405.1,188.4 L405.6,188.4 L406.1,188.4 L406.6,188.4 L407.1,188.4 L407.6,188.5 L408.1,188.5 L408.6,188.5 L409.1,188.5 L409.6,188.5 L410.1,188.5 L410.6,188.5 L411.1,188.5 L411.6,188.5 L412.1,188.5 L412.6,188.5 L413.1,188.5 L413.6,188.5 L414.1,188.6 L414.6,188.6 L415.1,188.6 L415.6,188.6 L416.1,188.6 L416.6,188.6 L417.1,188.6 L417.6,188.6 L418.1,188.6 L418.6,188.6 L419.1,188.6 L419.6,188.7 L420.1,188.7 L420.6,188.7 L421.1,188.7 L421.6,188.7 L422.1,188.7 L422.6,188.7 L423.1,188.7 L423.6,188.7 L424.1,188.7 L424.6,188.7 L425.1,188.7 L425.6,188.7 L426.1,188.8 L426.6,188.8 L427.1,188.8 L427.6,188.8 L428.1,188.8 L428.6,188.8 L429.1,188.8 L429.6,188.8 L430.1,188.8 L430.6,188.8 L431.1,188.8 L431.6,188.8 L432.1,188.8 L432.6,188.9 L433.1,188.9 L433.6,188.9 L434.1,188.9 L434.6,188.9 L435.1,188.9 L435.6,188.9 L436.1,188.9 L436.6,188.9 L437.1,188.9 L437.6,188.9 L438.1,188.9 L438.6,189 L439.1,189 L439.6,189 L440.1,189 L440.6,189 L441.1,189 L441.6,189 L442.1,189 L442.6,189 L443.1,189 L443.6,189 L444.1,189 L444.6,189.1 L445.1,189.1 L445.6,189.1 L446.1,189.1 L446.6,189.1 L447.1,189.1 L447.6,189.1 L448.1,189.1 L448.6,189.1 L449.1,189.1 L449.6,189.1 L450.1,189.1 L450.6,189.2 L451.1,189.2 L451.6,189.2 L452.1,189.2 L452.6,189.2 L453.1,189.2 L453.6,189.2 L454.1,189.2 L454.6,189.2 L455.1,189.2 L455.6,189.2 L456.1,189.2 L456.6,189.3 L457.1,189.3 L457.6,189.3 L458.1,189.3 L458.6,189.3 L459.1,189.3 L459.6,189.3 L460.1,189.3 L460.6,189.3 L461.1,189.3 L461.6,189.3 L462.1,189.3 L462.6,189.3 L463.1,189.3 L463.6,189.3 L464.1,189.3 L464.6,189.3 L465.1,189.3 L465.6,189.4 L466.1,189.4 L466.6,189.4 L467.1,189.4 L467.6,189.4 L468.1,189.4 L468.6,189.4 L469.1,189.4 L469.6,189.4 L470.1,189.4 L470.6,189.4 L471.1,189.4 L471.6,189.4 L472.1,189.4 L472.6,189.4 L473.1,189.4 L473.6,189.4 L474.1,189.4 L474.6,189.4 L475.1,189.4 L475.6,189.4 L476.1,189.4 L476.6,189.4 L477.1,189.4 L477.6,189.4 L478.1,189.4 L478.6,189.5 L479.1,189.5 L479.6,189.5 L480.1,189.5 L480.6,189.5 L481.1,189.5 L481.6,189.5 L482.1,189.5 L482.6,189.5 L483.1,189.5 L483.6,189.5 L484.1,189.5 L484.6,189.5 L485.1,189.5 L485.6,189.5 L486.1,189.5 L486.6,189.5 L487.1,189.5 L487.6,189.5 L488.1,189.5 L488.6,189.5 L489.1,189.5 L489.6,189.6 L490.1,189.6 L490.6,189.6 L491.1,189.6 L491.6,189.6 L492.1,189.6 L492.6,189.6 L493.1,189.6 L493.6,189.6 L494.1,189.6 L494.6,189.6 L495.1,189.6 L495.6,189.6 L496.1,189.6 L496.6,189.6 L497.1,189.6 L497.6,189.6 L498.1,189.6 L498.6,189.6 L499.1,189.6 L499.6,189.6 L500.1,189.6 L500.6,189.6 L501.1,189.6 L501.6,189.6 L502.1,189.6 L502.6,189.6 L503.1,189.6 L503.6,189.6 L504.1,189.6 L504.6,189.6 L505.1,189.6 L505.6,189.6 L506.1,189.6 L506.6,189.6 L507.1,189.6 L507.6,189.6 L508.1,189.6 L508.6,189.6 L509.1,189.6 L509.6,189.6 L510.1,189.6 L510.6,189.6 L511.1,189.6 L511.6,189.6 L512.1,189.6 L512.6,189.6 L513.1,189.6 L513.6,189.6 L514.1,189.6 L514.6,189.6 L515.1,189.6 L515.6,189.6 L516.1,189.6 L516.6,189.6 L517.1,189.5 L517.6,189.5 L518.1,189.5 L518.6,189.5 L519.1,189.5 L519.6,189.5 L520.1,189.5 L520.6,189.5 L521.1,189.5 L521.6,189.5 L522.1,189.5 L522.6,189.5 L523.1,189.5 L523.6,189.5 L524.1,189.5 L524.6,189.5 L525.1,189.5 L525.6,189.4 L526.1,189.4 L526.6,189.4 L527.1,189.4 L527.6,189.4 L528.1,189.4 L528.6,189.4 L529.1,189.4 L529.6,189.4 L530.1,189.4 L530.6,189.4 L531.1,189.4 L531.6,189.3 L532.1,189.3 L532.6,189.3 L533.1,189.3 L533.6,189.3 L534,189.3" fill="none" stroke="#f42a36" stroke-width="1.4" stroke-linejoin="round"/><path d="M65.8,244.5h0M78.1,238.7h0M90.4,231.1h0M102.7,220.3h0M115,211.3h0M127.3,201.2h0M139.6,192.4h0M151.9,184.5h0M164.2,178.7h0M176.5,175h0M188.8,172.6h0M201.1,171.7h0M213.4,172.3h0M225.7,173.7h0M238,175.8h0M250.3,178.1h0M262.6,180.3h0M274.9,182.2h0M287.2,183.6h0M299.5,184.5h0M311.8,185.4h0M324.1,185.8h0M336.4,186.3h0M348.7,186.8h0M361,187.5h0M373.3,187.7h0M385.6,188.1h0M397.9,188.3h0M410.2,188.5h0M422.5,188.7h0M434.8,188.9h0M447.1,189.1h0M459.4,189.3h0M471.7,189.4h0M484,189.5h0M496.3,189.6h0M508.6,189.6h0M520.9,189.5h0M533.2,189.3h0" stroke="#f42a36" stroke-width="3.0" stroke-linecap="round" fill="none"/></g>
<g clip-path="url(#c1)"><path d="M65.6,223.1 L78.1,223.1 L90.4,195 L102.8,192.3 L115.1,187.6 L127.4,187 L139.8,187.6 L151.8,185.9 L163.6,184.6 L176.4,183.3 L189,184.6 L201.8,184.5 L212.7,183.2 L225.5,183.2 L238.4,184.1 L250.5,184.1 L262.7,184.7 L274.9,185.2 L287,184.5 L299.8,185.3 L311.7,186.3 L324.6,186.5 L337.5,186.9 L349.4,187.3 L361.3,188.1 L374.2,188.1 L385.9,188.5 L398,188.5 L410.7,188.7 L422.6,188.9 L435.5,189.1 L447.4,189.3 L459.9,189.5 L472.4,189.7 L484.7,189.8 L496.6,189.9 L509,189.9" fill="none" stroke="#2a2af5" stroke-width="1.6" stroke-linejoin="round"/><path d="M65.8,223.1h0M78.1,223.1h0M90.4,195h0M102.7,192.3h0M115,187.6h0M127.3,187h0M139.6,187.6h0M151.9,185.9h0M164.2,184.5h0M176.5,183.3h0M188.8,184.6h0M201.1,184.5h0M213.4,183.2h0M225.7,183.2h0M238,184.1h0M250.3,184.1h0M262.6,184.7h0M274.9,185.2h0M287.2,184.5h0M299.5,185.3h0M311.8,186.3h0M324.1,186.5h0M336.4,186.9h0M348.7,187.3h0M361,188.1h0M373.3,188.1h0M385.6,188.5h0M397.9,188.5h0M410.2,188.7h0M422.5,188.9h0M434.8,189.1h0M447.1,189.3h0M459.4,189.5h0M471.7,189.7h0M484,189.8h0M496.3,189.9h0M508.6,189.9h0" stroke="#2a2af5" stroke-width="3.2" stroke-linecap="round" fill="none"/></g>
<path d="M158,185.2 L158.5,185.2 L159,185.1 L159.5,185.1 L160,185 L160.5,184.9 L161,184.9 L161.5,184.8 L162,184.8 L162.5,184.7 L163,184.7 L163.5,184.6 L164,184.6 L164.5,184.5 L165,184.5 L165.5,184.4 L166,184.4 L166.5,184.3 L167,184.3 L167.5,184.2 L168,184.2 L168.5,184.1 L169,184.1 L169.5,184 L170,183.9 L170.5,183.9 L171,183.8 L171.5,183.8 L172,183.7 L172.5,183.7 L173,183.6 L173.5,183.6 L174,183.5 L174.5,183.5 L175,183.4 L175.5,183.4 L176,183.3 L176.5,183.3 L177,183.4 L177.5,183.4 L178,183.5 L178.5,183.5 L179,183.6 L179.5,183.6 L180,183.7 L180.5,183.7 L181,183.8 L181.5,183.8 L182,183.9 L182.5,183.9 L183,184 L183.5,184 L184,184.1 L184.5,184.1 L185,184.2 L185.5,184.2 L186,184.3 L186.5,184.3 L187,184.4 L187.5,184.4 L188,184.5 L188.5,184.5 L189,184.6 L189.5,184.6 L190,184.6 L190.5,184.6 L191,184.6 L191.5,184.6 L192,184.6 L192.5,184.6 L193,184.6 L193.5,184.6 L194,184.6 L194.5,184.6 L195,184.6 L195.5,184.5 L196,184.5 L196.5,184.5 L197,184.5 L197.5,184.5 L198,184.5 L198.5,184.5 L199,184.5 L199.5,184.5 L200,184.5 L200.5,184.5 L201,184.5 L201.5,184.5 L202,184.5 L202.5,184.4 L203,184.4 L203.5,184.3 L204,184.2 L204.5,184.2 L205,184.1 L205.5,184.1 L206,184 L206.5,183.9 L207,183.9 L207.5,183.8 L208,183.8 L208.5,183.7 L209,183.6 L209.5,183.6 L210,183.5 L210.5,183.5 L211,183.4 L211.5,183.3 L212,183.3 L212.5,183.2 L213,183.2 L213.5,183.2 L214,183.2 L214.5,183.2 L215,183.2 L215.5,183.2 L216,183.2 L216.5,183.2 L217,183.2 L217.5,183.2 L218,183.2 L218.5,183.2 L219,183.2 L219.5,183.2 L220,183.2 L220.5,183.2 L221,183.2 L221.5,183.2 L222,183.2 L222.5,183.2 L223,183.2 L223.5,183.2 L224,183.2 L224.5,183.2 L225,183.2 L225.5,183.2 L226,183.2 L226.5,183.3 L227,183.3 L227.5,183.3 L228,183.4" fill="none" stroke="#2a2af5" stroke-width="3" stroke-linejoin="round" clip-path="url(#c1)"/>
<g clip-path="url(#c2)"><path d="M65.8,404.9 L66.3,404.7 L66.8,404.4 L67.3,404.2 L67.8,403.9 L68.3,403.7 L68.8,403.4 L69.3,403.2 L69.8,402.9 L70.3,402.7 L70.8,402.4 L71.3,402.2 L71.8,402 L72.3,401.7 L72.8,401.5 L73.3,401.2 L73.8,401 L74.3,400.7 L74.8,400.5 L75.3,400.2 L75.8,400 L76.3,399.7 L76.8,399.5 L77.3,399.2 L77.8,399 L78.3,398.7 L78.8,398.5 L79.3,398.2 L79.8,398 L80.3,397.7 L80.8,397.5 L81.3,397.2 L81.8,397 L82.3,396.7 L82.8,396.5 L83.3,396.2 L83.8,396 L84.3,395.7 L84.8,395.5 L85.3,395.2 L85.8,395 L86.3,394.7 L86.8,394.5 L87.3,394.2 L87.8,394 L88.3,393.7 L88.8,393.5 L89.3,393.2 L89.8,393 L90.3,392.7 L90.8,392.5 L91.3,392.2 L91.8,392 L92.3,391.7 L92.8,391.5 L93.3,391.2 L93.8,391 L94.3,390.8 L94.8,390.5 L95.3,390.3 L95.8,390 L96.3,389.8 L96.8,389.5 L97.3,389.3 L97.8,389 L98.3,388.8 L98.8,388.5 L99.3,388.3 L99.8,388 L100.3,387.7 L100.8,387.5 L101.3,387.2 L101.8,386.9 L102.3,386.7 L102.8,386.4 L103.3,386.1 L103.8,385.8 L104.3,385.5 L104.8,385.2 L105.3,384.9 L105.8,384.6 L106.3,384.3 L106.8,384 L107.3,383.7 L107.8,383.3 L108.3,383 L108.8,382.6 L109.3,382.3 L109.8,381.9 L110.3,381.6 L110.8,381.2 L111.3,380.8 L111.8,380.4 L112.3,380 L112.8,379.5 L113.3,379.1 L113.8,378.6 L114.3,378.1 L114.8,377.6 L115.3,377 L115.8,376.4 L116.3,375.7 L116.8,375 L117.3,374.2 L117.8,373.2 L118.3,372.1 L118.8,370.8 L119.3,369.3 L119.8,367.2 L120.3,364.4 L120.8,361.5 L121.3,359 L121.8,356.5 L122.3,354.2 L122.8,352.2 L123.3,350.6 L123.8,349.3 L124.3,348.1 L124.8,347 L125.3,346.1 L125.8,345.4 L126.3,344.8 L126.8,344.2 L127.3,343.7 L127.8,343.3 L128.3,342.9 L128.8,342.6 L129.3,342.3 L129.8,342.1 L130.3,342 L130.8,341.8 L131.3,341.7 L131.8,341.5 L132.3,341.4 L132.8,341.3 L133.3,341.3 L133.8,341.2 L134.3,341.2 L134.8,341.2 L135.3,341.3 L135.8,341.4 L136.3,341.5 L136.8,341.7 L137.3,341.9 L137.8,342.1 L138.3,342.4 L138.8,342.8 L139.3,343.5 L139.8,344.2 L140.3,345 L140.8,345.9 L141.3,346.8 L141.8,348 L142.3,349.2 L142.8,350.5 L143.3,352 L143.8,353.6 L144.3,355 L144.8,356.2 L145.3,357.2 L145.8,358.1 L146.3,358.9 L146.8,359.7 L147.3,360.4 L147.8,361 L148.3,361.7 L148.8,362.3 L149.3,362.9 L149.8,363.4 L150.3,363.9 L150.8,364.2 L151.3,364.4 L151.8,364.6 L152.3,364.7 L152.8,364.8 L153.3,364.9 L153.8,364.9 L154.3,365 L154.8,365.1 L155.3,365.1 L155.8,365.2 L156.3,365.2 L156.8,365.2 L157.3,365.2 L157.8,365.2 L158.3,365.2 L158.8,365.1 L159.3,365.1 L159.8,365.1 L160.3,365 L160.8,365 L161.3,364.9 L161.8,364.8 L162.3,364.8 L162.8,364.7 L163.3,364.6 L163.8,364.5 L164.3,364.5 L164.8,364.4 L165.3,364.3 L165.8,364.2 L166.3,364.1 L166.8,364.1 L167.3,364 L167.8,363.9 L168.3,363.9 L168.8,363.8 L169.3,363.7 L169.8,363.7 L170.3,363.6 L170.8,363.5 L171.3,363.5 L171.8,363.4 L172.3,363.3 L172.8,363.3 L173.3,363.2 L173.8,363.1 L174.3,363.1 L174.8,363 L175.3,362.9 L175.8,362.8 L176.3,362.8 L176.8,362.7 L177.3,362.6 L177.8,362.5 L178.3,362.4 L178.8,362.3 L179.3,362.2 L179.8,362.2 L180.3,362.1 L180.8,362 L181.3,361.9 L181.8,361.8 L182.3,361.7 L182.8,361.6 L183.3,361.4 L183.8,361.3 L184.3,361.2 L184.8,361.1 L185.3,360.9 L185.8,360.8 L186.3,360.6 L186.8,360.5 L187.3,360.3 L187.8,360.1 L188.3,359.9 L188.8,359.7 L189.3,359.4 L189.8,359.1 L190.3,358.7 L190.8,358.2 L191.3,357.6 L191.8,356.6 L192.3,355.1 L192.8,353 L193.3,348.9 L193.8,343.5 L194.3,337.9 L194.8,331.5 L195.3,327 L195.8,324.7 L196.3,322.9 L196.8,321.8 L197.3,321.2 L197.8,320.7 L198.3,320.3 L198.8,320 L199.3,319.7 L199.8,319.6 L200.3,319.4 L200.8,319.3 L201.3,319.2 L201.8,319.1 L202.3,319.1 L202.8,319 L203.3,318.9 L203.8,318.9 L204.3,318.8 L204.8,318.8 L205.3,318.8 L205.8,318.8 L206.3,318.8 L206.8,318.8 L207.3,318.8 L207.8,318.8 L208.3,318.8 L208.8,318.8 L209.3,318.8 L209.8,318.8 L210.3,318.8 L210.8,318.8 L211.3,318.8 L211.8,318.8 L212.3,318.8 L212.8,318.9 L213.3,318.9 L213.8,319.1 L214.3,319.2 L214.8,319.4 L215.3,319.5 L215.8,319.7 L216.3,320 L216.8,320.3 L217.3,320.7 L217.8,321.1 L218.3,321.6 L218.8,322.3 L219.3,323 L219.8,323.9 L220.3,324.8 L220.8,325.8 L221.3,326.9 L221.8,328.1 L222.3,329.3 L222.8,330.6 L223.3,331.9 L223.8,333.2 L224.3,334.5 L224.8,335.9 L225.3,337.4 L225.8,338.8 L226.3,340.1 L226.8,341.4 L227.3,342.4 L227.8,343.4 L228.3,344.4 L228.8,345.4 L229.3,346.2 L229.8,347.1 L230.3,347.8 L230.8,348.4 L231.3,348.9 L231.8,349.3 L232.3,349.7 L232.8,350.1 L233.3,350.4 L233.8,350.7 L234.3,350.9 L234.8,351.1 L235.3,351.2 L235.8,351.3 L236.3,351.3 L236.8,351.1 L237.3,350.8 L237.8,350.4 L238.3,350 L238.8,349.5 L239.3,349 L239.8,348.2 L240.3,347.2 L240.8,346 L241.3,344.6 L241.8,343.3 L242.3,341.9 L242.8,340.6 L243.3,339.2 L243.8,337.7 L244.3,336.2 L244.8,334.9 L245.3,333.6 L245.8,332.6 L246.3,331.8 L246.8,331 L247.3,330.2 L247.8,329.5 L248.3,328.9 L248.8,328.3 L249.3,327.8 L249.8,327.4 L250.3,327 L250.8,326.7 L251.3,326.4 L251.8,326.1 L252.3,325.8 L252.8,325.5 L253.3,325.2 L253.8,325 L254.3,324.8 L254.8,324.6 L255.3,324.5 L255.8,324.3 L256.3,324.3 L256.8,324.2 L257.3,324.2 L257.8,324.1 L258.3,324.1 L258.8,324.1 L259.3,324.1 L259.8,324 L260.3,324 L260.8,324 L261.3,324 L261.8,324 L262.3,323.9 L262.8,323.9 L263.3,323.9 L263.8,323.9 L264.3,323.9 L264.8,323.9 L265.3,323.8 L265.8,323.8 L266.3,323.8 L266.8,323.8 L267.3,323.8 L267.8,323.8 L268.3,323.8 L268.8,323.8 L269.3,323.8 L269.8,323.8 L270.3,323.8 L270.8,323.8 L271.3,323.8 L271.8,323.8 L272.3,323.8 L272.8,323.8 L273.3,323.8 L273.8,323.8 L274.3,323.8 L274.8,323.8 L275.3,323.9 L275.8,323.9 L276.3,323.9 L276.8,323.9 L277.3,323.9 L277.8,323.9 L278.3,323.9 L278.8,323.9 L279.3,324 L279.8,324 L280.3,324 L280.8,324 L281.3,324 L281.8,324 L282.3,324.1 L282.8,324.1 L283.3,324.1 L283.8,324.1 L284.3,324.1 L284.8,324.2 L285.3,324.2 L285.8,324.2 L286.3,324.2 L286.8,324.2 L287.3,324.3 L287.8,324.3 L288.3,324.3 L288.8,324.3 L289.3,324.4 L289.8,324.4 L290.3,324.4 L290.8,324.4 L291.3,324.4 L291.8,324.5 L292.3,324.5 L292.8,324.5 L293.3,324.5 L293.8,324.5 L294.3,324.6 L294.8,324.6 L295.3,324.6 L295.8,324.6 L296.3,324.7 L296.8,324.7 L297.3,324.7 L297.8,324.7 L298.3,324.8 L298.8,324.8 L299.3,324.8 L299.8,324.8 L300.3,324.9 L300.8,324.9 L301.3,324.9 L301.8,324.9 L302.3,325 L302.8,325 L303.3,325 L303.8,325.1 L304.3,325.1 L304.8,325.1 L305.3,325.2 L305.8,325.2 L306,325.2" fill="none" stroke="#ee2222" stroke-width="1.5" stroke-linejoin="round"/><path d="M65.8,404.9h0M68.1,403.8h0M70.5,402.6h0M72.8,401.5h0M75.2,400.3h0M77.5,399.1h0M79.8,398h0M82.2,396.8h0M84.5,395.6h0M86.9,394.4h0M89.2,393.3h0M91.5,392.1h0M93.9,391h0M96.2,389.8h0M98.6,388.6h0M100.9,387.4h0M103.2,386.1h0M105.6,384.7h0M107.9,383.2h0M110.3,381.6h0M112.6,379.7h0M114.9,377.4h0M117.3,374.2h0M119.6,368h0M122,355.8h0M124.3,348.1h0M126.6,344.4h0M129,342.5h0M131.3,341.7h0M133.7,341.2h0M136,341.4h0M138.3,342.4h0M140.7,345.7h0M143,351.1h0M145.4,357.3h0M147.7,360.9h0M150,363.6h0M152.4,364.7h0M154.7,365.1h0M157.1,365.2h0M159.4,365.1h0M161.7,364.8h0M164.1,364.5h0M166.4,364.1h0M168.8,363.8h0M171.1,363.5h0M173.4,363.2h0M175.8,362.8h0M178.1,362.5h0M180.5,362h0M182.8,361.6h0M185.1,361h0M187.5,360.2h0M189.8,359.1h0M192.2,355.6h0M194.5,335.3h0M196.8,321.7h0M199.2,319.8h0M201.5,319.2h0M203.9,318.9h0M206.2,318.8h0M208.5,318.8h0M210.9,318.8h0M213.2,318.9h0M215.6,319.6h0M217.9,321.2h0M220.2,324.7h0M222.6,330h0M224.9,336.3h0M227.3,342.3h0M229.6,346.8h0M231.9,349.4h0M234.3,350.9h0M236.6,351.2h0M239,349.3h0M241.3,344.6h0M243.6,338.2h0M246,332.3h0M248.3,328.9h0M250.7,326.8h0M253,325.4h0M255.3,324.4h0M257.7,324.1h0M260,324h0M262.4,323.9h0M264.7,323.9h0M267,323.8h0M269.4,323.8h0M271.7,323.8h0M274.1,323.8h0M276.4,323.9h0M278.7,323.9h0M281.1,324h0M283.4,324.1h0M285.8,324.2h0M288.1,324.3h0M290.4,324.4h0M292.8,324.5h0M295.1,324.6h0M297.5,324.7h0M299.8,324.8h0M302.1,325h0M304.5,325.1h0" stroke="#ee2222" stroke-width="2.8" stroke-linecap="round" fill="none"/></g>
<g clip-path="url(#c2)"><path d="M510,331.6 L510.5,331.5 L511,331.4 L511.5,331.3 L512,331.2 L512.5,331.1 L513,331 L513.5,330.9 L514,330.8 L514.5,330.7 L515,330.6 L515.5,330.6 L516,330.5 L516.5,330.4 L517,330.3 L517.5,330.3 L518,330.2 L518.5,330.2 L519,330.2 L519.5,330.2 L520,330.2 L520.5,330.2 L521,330.2 L521.5,330.2 L522,330.2 L522.5,330.2 L523,330.2 L523.5,330.2 L524,330.2 L524.5,330.2 L525,330.2 L525.5,330.2 L526,330.2 L526.5,330.2 L527,330.3 L527.5,330.3 L528,330.4 L528.5,330.4 L529,330.5 L529.5,330.6 L530,330.6 L530.5,330.7 L531,330.8 L531.5,330.9 L532,331 L532.5,331.1 L533,331.3 L533.5,331.5 L534,331.6 L534.5,331.8" fill="none" stroke="#ee2222" stroke-width="1.5" stroke-linejoin="round"/></g>
<path d="M65.8,384.3 L66.3,383.6 L66.8,382.9 L67.3,382.2 L67.8,381.5 L68.3,380.9 L68.8,380.4 L69.3,379.9 L69.8,379.4 L70.3,379 L70.8,378.6 L71.3,378.2 L71.8,377.8 L72.3,377.5 L72.8,377.2 L73.3,376.9 L73.8,376.6 L74.3,376.3 L74.8,376.1 L75.3,375.9 L75.8,375.7 L76.3,375.5 L76.8,375.3 L77.3,375.1 L77.8,374.9 L78.3,374.8 L78.8,374.6 L79.3,374.5 L79.8,374.3 L80.3,374.2 L80.8,374.1 L81.3,374 L81.8,373.9 L82.3,373.8 L82.8,373.7 L83.3,373.6 L83.8,373.5 L84.3,373.4 L84.8,373.3 L85.3,373.3 L85.8,373.2 L86.3,373.1 L86.8,373.1 L87.3,373 L87.8,372.9 L88.3,372.9 L88.8,372.8 L89.3,372.8 L89.8,372.7 L90.3,372.7 L90.8,372.7 L91.3,372.6 L91.8,372.6 L92.3,372.6 L92.8,372.5 L93.3,372.5 L93.8,372.5 L94.3,372.5 L94.8,372.5 L95.3,372.4 L95.8,372.4 L96.3,372.4 L96.8,372.4 L97.3,372.3 L97.8,372.3 L98.3,372.3 L98.8,372.2 L99.3,372.2 L99.8,372.2 L100.3,372.1 L100.8,372.1 L101.3,372 L101.8,372 L102.3,372 L102.8,371.9 L103.3,371.8 L103.8,371.8 L104.3,371.7 L104.8,371.7 L105.3,371.6 L105.8,371.5 L106.3,371.4 L106.8,371.3 L107.3,371.1 L107.8,371 L108.3,370.8 L108.8,370.6 L109.3,370.4 L109.8,370.2 L110.3,369.9 L110.8,369.7 L111.3,369.4 L111.8,369.1 L112.3,368.7 L112.8,368.3 L113.3,367.9 L113.8,367.4 L114.3,366.8 L114.8,366.3 L115.3,365.6 L115.8,364.8 L116.3,364 L116.8,363 L117.3,362 L117.8,360.8 L118.3,359.5 L118.8,357.9 L119.3,356.2 L119.8,354.2 L120.3,351.9 L120.8,349.8 L121.3,348.1 L121.8,346.5 L122.3,345 L122.8,343.7 L123.3,342.5 L123.8,341.5 L124.3,340.7 L124.8,340 L125.3,339.3 L125.8,338.7 L126.3,338.2 L126.8,337.7 L127.3,337.3 L127.8,337 L128.3,336.8 L128.8,336.6 L129.3,336.3 L129.8,336.1 L130.3,336 L130.8,335.8 L131.3,335.7 L131.8,335.6 L132.3,335.6 L132.8,335.6 L133.3,335.7 L133.8,335.8 L134.3,335.9 L134.8,336.1 L135.3,336.3 L135.8,336.5 L136.3,336.7 L136.8,337 L137.3,337.3 L137.8,337.8 L138.3,338.3 L138.8,339 L139.3,339.6 L139.8,340.6 L140.3,341.7 L140.8,342.9 L141.3,344.3 L141.8,345.8 L142.3,347.4 L142.8,349.2 L143.3,350.9 L143.8,352.9 L144.3,354.8 L144.8,356.5 L145.3,358 L145.8,359.5 L146.3,360.8 L146.8,361.8 L147.3,362.6 L147.8,363.2 L148.3,363.7 L148.8,364.1 L149.3,364.5 L149.8,364.8 L150.3,365.1 L150.8,365.4 L151.3,365.7 L151.8,365.9 L152.3,366.1 L152.8,366.3 L153.3,366.5 L153.8,366.6 L154.3,366.8 L154.8,366.9 L155.3,367 L155.8,367.1 L156.3,367.2 L156.8,367.3 L157.3,367.4 L157.8,367.4 L158.3,367.5 L158.8,367.6 L159.3,367.6 L159.8,367.7 L160.3,367.7 L160.8,367.8 L161.3,367.8 L161.8,367.8 L162.3,367.9 L162.8,367.9 L163.3,367.9 L163.8,367.9 L164.3,368 L164.8,368 L165.3,368 L165.8,368.1 L166.3,368.1 L166.8,368.1 L167.3,368.1 L167.8,368.1 L168.3,368.2 L168.8,368.2 L169.3,368.2 L169.8,368.2 L170.3,368.2 L170.8,368.2 L171.3,368.3 L171.8,368.3 L172.3,368.3 L172.8,368.3 L173.3,368.3 L173.8,368.3 L174.3,368.3 L174.8,368.3 L175.3,368.3 L175.8,368.3 L176.3,368.3 L176.8,368.3 L177.3,368.3 L177.8,368.3 L178.3,368.3 L178.8,368.3 L179.3,368.3 L179.8,368.3 L180.3,368.3 L180.8,368.3 L181.3,368.3 L181.8,368.3 L182.3,368.3 L182.8,368.3 L183.3,368.3 L183.8,368.3 L184.3,368.3 L184.8,368.3 L185.3,368.3 L185.8,368.3 L186.3,368.3 L186.8,368.2 L187.3,368.1 L187.8,368.1 L188.3,367.9 L188.8,367.8 L189.3,367.6 L189.8,367.5 L190.3,367.3 L190.8,366.9 L191.3,366.5 L191.8,365.8 L192.3,365 L192.8,363.4 L193.3,360.3 L193.8,355.8 L194.3,348 L194.8,342 L195.3,337.5 L195.8,334.5 L196.3,332.7 L196.8,331.4 L197.3,330.5 L197.8,329.9 L198.3,329.4 L198.8,329 L199.3,328.6 L199.8,328.4 L200.3,328.2 L200.8,328 L201.3,327.8 L201.8,327.7 L202.3,327.6 L202.8,327.4 L203.3,327.3 L203.8,327.2 L204.3,327.2 L204.8,327.1 L205.3,327.1 L205.8,327.1 L206.3,327.1 L206.8,327.1 L207.3,327.1 L207.8,327.1 L208.3,327.1 L208.8,327.2 L209.3,327.2 L209.8,327.2 L210.3,327.2 L210.8,327.2 L211.3,327.3 L211.8,327.3 L212.3,327.3 L212.8,327.4 L213.3,327.4 L213.8,327.5 L214.3,327.6 L214.8,327.6 L215.3,327.7 L215.8,327.9 L216.3,328 L216.8,328.2 L217.3,328.4 L217.8,328.7 L218.3,329.1 L218.8,329.5 L219.3,330 L219.8,330.6 L220.3,331.4 L220.8,332.2 L221.3,333.1 L221.8,334.2 L222.3,335.4 L222.8,336.6 L223.3,337.9 L223.8,339.2 L224.3,340.5 L224.8,341.9 L225.3,343.3 L225.8,344.7 L226.3,346.1 L226.8,347.3 L227.3,348.4 L227.8,349.6 L228.3,350.7 L228.8,351.7 L229.3,352.7 L229.8,353.5 L230.3,354.1 L230.8,354.6 L231.3,355 L231.8,355.4 L232.3,355.8 L232.8,356.1 L233.3,356.4 L233.8,356.6 L234.3,356.8 L234.8,356.8 L235.3,356.7 L235.8,356.5 L236.3,356.2 L236.8,355.8 L237.3,355.4 L237.8,354.9 L238.3,354.4 L238.8,353.7 L239.3,352.8 L239.8,351.7 L240.3,350.6 L240.8,349.4 L241.3,348.2 L241.8,347 L242.3,345.7 L242.8,344.3 L243.3,342.9 L243.8,341.5 L244.3,340.2 L244.8,339 L245.3,337.8 L245.8,336.6 L246.3,335.5 L246.8,334.5 L247.3,333.6 L247.8,332.8 L248.3,332.3 L248.8,331.8 L249.3,331.3 L249.8,330.9 L250.3,330.5 L250.8,330.1 L251.3,329.8 L251.8,329.6 L252.3,329.3 L252.8,329.1 L253.3,328.9 L253.8,328.8 L254.3,328.6 L254.8,328.4 L255.3,328.3 L255.8,328.2 L256.3,328 L256.8,327.9 L257.3,327.8 L257.8,327.7 L258.3,327.6 L258.8,327.5 L259.3,327.5 L259.8,327.4 L260.3,327.3 L260.8,327.2 L261.3,327.2 L261.8,327.1 L262.3,327.1 L262.8,327 L263.3,326.9 L263.8,326.9 L264.3,326.8 L264.8,326.8 L265.3,326.7 L265.8,326.7 L266.3,326.6 L266.8,326.6 L267.3,326.6 L267.8,326.5 L268.3,326.5 L268.8,326.5 L269.3,326.4 L269.8,326.4 L270.3,326.4 L270.8,326.4 L271.3,326.3 L271.8,326.3 L272.3,326.3 L272.8,326.3 L273.3,326.2 L273.8,326.2 L274.3,326.2 L274.8,326.2 L275.3,326.1 L275.8,326.1 L276.3,326.1 L276.8,326.1 L277.3,326 L277.8,326 L278.3,326 L278.8,326 L279.3,326 L279.8,325.9 L280.3,325.9 L280.8,325.9 L281.3,325.9 L281.8,325.9 L282.3,325.8 L282.8,325.8 L283.3,325.8 L283.8,325.8 L284.3,325.8 L284.8,325.8 L285.3,325.7 L285.8,325.7 L286.3,325.7 L286.8,325.7 L287.3,325.7 L287.8,325.7 L288.3,325.7 L288.8,325.7 L289.3,325.7 L289.8,325.6 L290.3,325.6 L290.8,325.6 L291.3,325.6 L291.8,325.6 L292.3,325.6 L292.8,325.6 L293.3,325.6 L293.8,325.6 L294.3,325.6 L294.8,325.6 L295.3,325.6 L295.8,325.6 L296.3,325.6 L296.8,325.6 L297.3,325.6 L297.8,325.6 L298.3,325.6 L298.8,325.6 L299.3,325.6 L299.8,325.6 L300.3,325.6 L300.8,325.6 L301.3,325.6 L301.8,325.6" fill="none" stroke="#1c1cee" stroke-width="2.7" stroke-linejoin="round" clip-path="url(#c2)"/>
<path d="M300,325.6 L300.5,325.6 L301,325.6 L301.5,325.6 L302,325.6 L302.5,325.6 L303,325.6 L303.5,325.6 L304,325.6 L304.5,325.7 L305,325.7 L305.5,325.7 L306,325.7 L306.5,325.7 L307,325.7 L307.5,325.7 L308,325.7 L308.5,325.7 L309,325.7 L309.5,325.7 L310,325.8 L310.5,325.8 L311,325.8 L311.5,325.9 L312,325.9 L312.5,325.9 L313,326 L313.5,326 L314,326.1 L314.5,326.1 L315,326.2 L315.5,326.2 L316,326.3 L316.5,326.3 L317,326.4 L317.5,326.5 L318,326.5 L318.5,326.6 L319,326.7 L319.5,326.8 L320,326.9 L320.5,327 L321,327.1 L321.5,327.2 L322,327.3 L322.5,327.5 L323,327.7 L323.5,328 L324,328.3 L324.5,328.6 L325,329.1 L325.5,329.9 L326,330.8 L326.5,332 L327,333.4 L327.5,335.5 L328,338 L328.5,340.7 L329,344 L329.5,347.5 L330,351.1 L330.5,354.8 L331,357.8 L331.5,360.5 L332,362.4 L332.5,363.6 L333,364.5 L333.5,365.2 L334,365.5 L334.5,365.8 L335,366 L335.5,366.2 L336,366.4 L336.5,366.5 L337,366.6 L337.5,366.7 L338,366.7 L338.5,366.7 L339,366.6 L339.5,366.5 L340,366.4 L340.5,366.3 L341,366.1 L341.5,365.9 L342,365.7 L342.5,365.5 L343,365.2 L343.5,364.7 L344,364.1 L344.5,363.5 L345,362.8 L345.5,362 L346,361.1 L346.5,360 L347,358.8 L347.5,357.5 L348,356.3 L348.5,355.1 L349,353.9 L349.5,352.6 L350,351.5 L350.5,350.5 L351,349.6 L351.5,348.7 L352,347.9 L352.5,347.2 L353,346.6 L353.5,346.2 L354,345.9 L354.5,345.6 L355,345.4 L355.5,345.2 L356,345 L356.5,344.9 L357,344.8 L357.5,344.7 L358,344.7 L358.5,344.8 L359,345 L359.5,345.2 L360,345.5 L360.5,345.8 L361,346.2 L361.5,346.6 L362,347.1 L362.5,347.8 L363,348.6 L363.5,349.5 L364,350.5 L364.5,351.5 L365,352.7 L365.5,354.2 L366,355.8 L366.5,357.2 L367,358.3 L367.5,359.3 L368,360.3 L368.5,361.3 L369,362.1 L369.5,362.9 L370,363.6 L370.5,364.1 L371,364.6 L371.5,365 L372,365.3 L372.5,365.7 L373,366 L373.5,366.3 L374,366.5 L374.5,366.8 L375,367 L375.5,367.2 L376,367.4 L376.5,367.5 L377,367.7 L377.5,367.8 L378,367.9 L378.5,368 L379,368.1 L379.5,368.2 L380,368.3 L380.5,368.4 L381,368.5 L381.5,368.6 L382,368.7 L382.5,368.7 L383,368.8 L383.5,368.8 L384,368.9 L384.5,368.9 L385,368.9 L385.5,368.9 L386,368.9 L386.5,368.9 L387,368.9 L387.5,368.9 L388,368.9 L388.5,368.9 L389,368.9 L389.5,368.9 L390,369 L390.5,369 L391,369 L391.5,369 L392,369 L392.5,369 L393,369 L393.5,369 L394,369 L394.5,369 L395,369 L395.5,369 L396,369 L396.5,369 L397,369 L397.5,369 L398,369 L398.5,369 L399,369 L399.5,369 L400,369 L400.5,369 L401,369 L401.5,369 L402,369 L402.5,369 L403,369 L403.5,369 L404,369 L404.5,369 L405,369 L405.5,368.9 L406,368.9 L406.5,368.9 L407,368.9 L407.5,368.9 L408,368.8 L408.5,368.8 L409,368.8 L409.5,368.7 L410,368.7 L410.5,368.7 L411,368.6 L411.5,368.6 L412,368.6 L412.5,368.5 L413,368.5 L413.5,368.5 L414,368.4 L414.5,368.3 L415,368.3 L415.5,368.2 L416,368.1 L416.5,368 L417,367.9 L417.5,367.8 L418,367.7 L418.5,367.6 L419,367.5 L419.5,367.3 L420,367.2 L420.5,367.1 L421,366.9 L421.5,366.7 L422,366.5 L422.5,366.3 L423,366.1 L423.5,365.8 L424,365.6 L424.5,365.4 L425,365.1 L425.5,364.8 L426,364.5 L426.5,364.2 L427,363.9 L427.5,363.6 L428,363.3 L428.5,362.9 L429,362.5 L429.5,362.1 L430,361.7 L430.5,361.3 L431,360.8 L431.5,360.3 L432,359.7 L432.5,359 L433,358.4 L433.5,357.6 L434,356.9 L434.5,356.1 L435,355.3 L435.5,354.5 L436,353.7 L436.5,352.8 L437,351.8 L437.5,350.7 L438,349.6 L438.5,348.4 L439,347.3 L439.5,346.3 L440,345.4 L440.5,344.7 L441,344.1 L441.5,343.5 L442,343 L442.5,342.5 L443,342.1 L443.5,341.9 L444,341.7 L444.5,341.6 L445,341.5 L445.5,341.4 L446,341.4 L446.5,341.4 L447,341.5 L447.5,341.5 L448,341.6 L448.5,341.8 L449,341.9 L449.5,342.2 L450,342.6 L450.5,343.2 L451,343.8 L451.5,344.5 L452,345.2 L452.5,346 L453,346.8 L453.5,347.8 L454,348.7 L454.5,349.6 L455,350.6 L455.5,351.6 L456,352.6 L456.5,353.7 L457,354.8 L457.5,355.8 L458,356.9 L458.5,357.8 L459,358.7 L459.5,359.5 L460,360.2 L460.5,360.9 L461,361.6 L461.5,362.3 L462,362.9 L462.5,363.5 L463,364 L463.5,364.4 L464,364.8 L464.5,365.2 L465,365.5 L465.5,365.9 L466,366.2 L466.5,366.5 L467,366.8 L467.5,367.1 L468,367.3 L468.5,367.6 L469,367.8 L469.5,368 L470,368.2 L470.5,368.3 L471,368.5 L471.5,368.6 L472,368.8 L472.5,368.9 L473,369.1 L473.5,369.2 L474,369.3 L474.5,369.5 L475,369.6 L475.5,369.7 L476,369.8 L476.5,369.9 L477,369.9 L477.5,370 L478,370.1 L478.5,370.1 L479,370.1 L479.5,370.1 L480,370.1 L480.5,370.1 L481,370.1 L481.5,370.1 L482,370.1 L482.5,370.1 L483,370.1 L483.5,370.1 L484,370.1 L484.5,370.1 L485,370.1 L485.5,370.1 L486,370.1 L486.5,370.1 L487,370.1 L487.5,370.1 L488,370.1 L488.5,370.1 L489,370 L489.5,369.9 L490,369.8 L490.5,369.7 L491,369.5 L491.5,369.4 L492,369.2 L492.5,368.9 L493,368.7 L493.5,368.5 L494,368.2 L494.5,367.9 L495,367.5 L495.5,367.1 L496,366.5 L496.5,366 L497,365.3 L497.5,364.6 L498,363.6 L498.5,362.5 L499,361.2 L499.5,359.3 L500,356.8 L500.5,353.9 L501,351.2 L501.5,348.7 L502,346.2 L502.5,343.8 L503,341.7 L503.5,340.3 L504,339.1 L504.5,338.1 L505,337.3 L505.5,336.5 L506,335.9 L506.5,335.3 L507,334.8 L507.5,334.4 L508,334 L508.5,333.6 L509,333.2 L509.5,332.9 L510,332.7 L510.5,332.4 L511,332.3 L511.5,332.1 L512,332 L512.5,331.8 L513,331.7 L513.5,331.6 L514,331.5 L514.5,331.4 L515,331.3 L515.5,331.2 L516,331.1 L516.5,331.1 L517,331 L517.5,331 L518,330.9 L518.5,330.9 L519,330.9 L519.5,330.9 L520,330.9 L520.5,330.9 L521,330.9 L521.5,330.9 L522,330.9 L522.5,330.9 L523,330.9 L523.5,330.9 L524,330.9 L524.5,330.9 L525,330.9 L525.5,330.9 L526,330.9 L526.5,330.9 L527,331 L527.5,331 L528,331 L528.5,331.1 L529,331.2 L529.5,331.2 L530,331.3 L530.5,331.4 L531,331.5 L531.5,331.6 L532,331.8 L532.5,331.9 L533,332.2 L533.5,332.4 L534,332.6" fill="none" stroke="#2a22dc" stroke-width="1.9" stroke-linejoin="round" clip-path="url(#c2)"/>
<path d="M300.4,325.6h0M302.7,325.6h0M305.1,325.7h0M307.4,325.7h0M309.8,325.7h0M312.1,325.9h0M314.4,326.1h0M316.8,326.4h0M319.1,326.7h0M321.5,327.2h0M323.8,328.1h0M326.1,331.1h0M328.5,340.6h0M330.8,356.7h0M333.2,364.8h0M335.5,366.2h0M337.8,366.7h0M340.2,366.4h0M342.5,365.5h0M344.9,363h0M347.2,358.3h0M349.5,352.5h0M351.9,348.1h0M354.2,345.8h0M356.6,344.8h0M358.9,344.9h0M361.2,346.4h0M363.6,349.6h0M365.9,355.5h0M368.3,360.8h0M370.6,364.2h0M372.9,365.9h0M375.3,367.1h0M377.6,367.8h0M380,368.3h0M382.3,368.7h0M384.6,368.9h0M387,368.9h0M389.3,368.9h0M391.7,369h0M394,369h0M396.3,369h0M398.7,369h0M401,369h0M403.4,369h0M405.7,368.9h0M408,368.8h0M410.4,368.7h0M412.7,368.5h0M415.1,368.3h0M417.4,367.8h0M419.7,367.3h0M422.1,366.5h0M424.4,365.4h0M426.8,364.1h0M429.1,362.5h0M431.4,360.3h0M433.8,357.2h0M436.1,353.5h0M438.5,348.5h0M440.8,344.3h0M443.1,342.1h0M445.5,341.4h0M447.8,341.6h0M450.2,342.8h0M452.5,346h0M454.8,350.3h0M457.2,355.2h0M459.5,359.5h0M461.9,362.7h0M464.2,365h0M466.5,366.5h0M468.9,367.7h0M471.2,368.5h0M473.6,369.2h0M475.9,369.8h0M478.2,370.1h0M480.6,370.1h0M482.9,370.1h0M485.3,370.1h0M487.6,370.1h0M489.9,369.8h0M492.3,369h0M494.6,367.8h0M497,365.4h0M499.3,360.2h0M501.6,348h0M504,339.2h0M506.3,335.5h0M508.7,333.5h0M511,332.3h0M513.3,331.6h0M515.7,331.2h0M518,330.9h0M520.4,330.9h0M522.7,330.9h0M525,330.9h0M527.4,331h0M529.7,331.3h0M532.1,331.8h0" stroke="#2a22dc" stroke-width="2.7" stroke-linecap="round" fill="none" clip-path="url(#c2)"/>
<rect x="272.4" y="23.9" width="173.2" height="59" fill="#fff" stroke="#5a5a5a" stroke-width="1"/>
<line x1="275.9" y1="34.8" x2="302.1" y2="34.8" stroke="#141414" stroke-width="0.8"/>
<circle cx="288.8" cy="34.8" r="1.4" fill="#141414"/>
<line x1="275.9" y1="53.1" x2="302.1" y2="53.1" stroke="#f42a36" stroke-width="0.8"/>
<circle cx="288.8" cy="53.1" r="1.4" fill="#f42a36"/>
<line x1="275.9" y1="72.4" x2="302.1" y2="72.4" stroke="#2a2af5" stroke-width="0.8"/>
<circle cx="288.8" cy="72.4" r="1.4" fill="#2a2af5"/>
<g font-family="Liberation Serif, serif" fill="#111" stroke="#111" stroke-width="0.25">
<text x="311.4" y="40.7" font-size="11.2" text-anchor="start" transform="matrix(1,0,0,1.08,0,-3.3)" >AC Grid impedance</text>
<text x="311.2" y="56.4" font-size="11.2" text-anchor="start" transform="matrix(1,0,0,1.08,0,-4.5)" >MMC with <tspan font-weight="bold" font-size="10.2" stroke-width="0">Band-pass</tspan> filter</text>
<text x="311.2" y="74.8" font-size="11.4" text-anchor="start" transform="matrix(1,0,0,1.08,0,-6)" >MMC with Nonlinear filter</text>
</g>
<g font-family="Liberation Serif, serif" fill="#111" stroke="#111" stroke-width="0.25">
<text x="42.9" y="28.5" font-size="13.0" text-anchor="middle" transform="matrix(1,0,0,1.05,0,-1.4)">8000</text>
<text x="41.5" y="50.5" font-size="13.0" text-anchor="middle" transform="matrix(1,0,0,1.05,0,-2.5)">6000</text>
<text x="42.7" y="71.9" font-size="13.0" text-anchor="middle" transform="matrix(1,0,0,1.05,0,-3.6)">4000</text>
<text x="42.8" y="93.6" font-size="13.0" text-anchor="middle" transform="matrix(1,0,0,1.05,0,-4.7)">2000</text>
<text x="51.7" y="120.2" font-size="13.0" text-anchor="middle" transform="matrix(1,0,0,1.05,0,-6)">0</text>
<text x="68.1" y="132.3" font-size="13.0" text-anchor="middle" transform="matrix(1,0,0,1.05,0,-6.6)">0</text>
<text x="293.5" y="132.4" font-size="13.0" text-anchor="middle" transform="matrix(1,0,0,1.05,0,-6.6)">1000</text>
<text x="528.8" y="130.8" font-size="13.0" text-anchor="middle" transform="matrix(1,0,0,1.05,0,-6.5)">2000</text>
<text x="48.4" y="176.4" font-size="13.0" text-anchor="middle" transform="matrix(1,0,0,1.05,0,-8.8)">140</text>
<text x="53.8" y="226.6" font-size="13.0" text-anchor="middle" transform="matrix(1,0,0,1.05,0,-11.3)">0</text>
<text x="46.2" y="261.4" font-size="13.0" text-anchor="middle" transform="matrix(1,0,0,1.05,0,-13.1)">−100</text>
<text x="69" y="281.2" font-size="13.0" text-anchor="middle" transform="matrix(1,0,0,1.05,0,-14.1)">0</text>
<text x="294.2" y="281.6" font-size="13.0" text-anchor="middle" transform="matrix(1,0,0,1.05,0,-14.1)">1000</text>
<text x="529.8" y="279.4" font-size="13.0" text-anchor="middle" transform="matrix(1,0,0,1.05,0,-14)">2000</text>
<text x="46.8" y="330.2" font-size="13.0" text-anchor="middle" transform="matrix(1,0,0,1.05,0,-16.5)">220</text>
<text x="53.2" y="373.2" font-size="13.0" text-anchor="middle" transform="matrix(1,0,0,1.05,0,-18.7)">0</text>
<text x="46.2" y="413" font-size="13.0" text-anchor="middle" transform="matrix(1,0,0,1.05,0,-20.7)">−180</text>
<text x="66.5" y="430.5" font-size="13.0" text-anchor="middle" transform="matrix(1,0,0,1.05,0,-21.5)">0</text>
<text x="291.6" y="430.3" font-size="13.0" text-anchor="middle" transform="matrix(1,0,0,1.05,0,-21.5)">1000</text>
<text x="527.5" y="428.8" font-size="13.0" text-anchor="middle" transform="matrix(1,0,0,1.05,0,-21.4)">2000</text>
<text x="294" y="296.5" font-size="13.3" text-anchor="middle" transform="matrix(1,0,0,1.08,0,-23.7)">Frequency/Hz</text>
<text x="291.2" y="444.6" font-size="13.3" text-anchor="middle" transform="matrix(1,0,0,1.08,0,-35.6)">Frequency/Hz</text>
</g>
<text font-family="Liberation Serif, serif" fill="#111" stroke="#111" stroke-width="0.25" font-size="14.1" text-anchor="middle" transform="translate(22.5,65.1) rotate(-90)">Magnitude/dB</text>
<text font-family="Liberation Serif, serif" fill="#111" stroke="#111" stroke-width="0.25" font-size="12.7" text-anchor="middle" transform="translate(19.4,220.4) rotate(-90)">Phase/°</text>
<text font-family="Liberation Serif, serif" fill="#111" stroke="#111" stroke-width="0.25" font-size="12.95" text-anchor="middle" transform="translate(19.8,360.2) rotate(-90)">Phase margin/°</text>
<rect x="280" y="370.5" width="173.6" height="41" fill="#fff" stroke="#6a6a6a" stroke-width="1"/>
<line x1="283.5" y1="382" x2="308.7" y2="382" stroke="#4d9fd9" stroke-width="1.6"/>
<line x1="283.5" y1="400.3" x2="308.7" y2="400.3" stroke="#ea7d5c" stroke-width="1.6"/>
<g font-family="Liberation Serif, serif" fill="#111" stroke="#111" stroke-width="0.25">
<text x="317.1" y="385.8" font-size="11.2" text-anchor="start" transform="matrix(1,0,0,1.08,0,-30.9)" >Low-pass filter</text>
<text x="317.1" y="405.3" font-size="11.2" text-anchor="start" transform="matrix(1,0,0,1.08,0,-32.4)" >Nonlinear filter</text>
</g>
<rect x="337" y="323.2" width="97.5" height="14.8" fill="#fff"/>
<text x="343" y="336.4" font-family="Liberation Serif, serif" font-size="14.5" textLength="88.4" lengthAdjust="spacingAndGlyphs" fill="#4536e2" stroke="#4536e2" stroke-width="0.25">Phase difference</text>
<path d="M208,422 V8 H215.4 V422" fill="none" stroke="#0b9a4c" stroke-width="2.8"/>
<path d="M242,156.1 L215.2,158.7 L241.6,145.2 Q242.5,138.4 249,138.4 H445.8 Q452.2,138.4 452.2,144.8 V174 Q452.2,180.2 445.8,180.2 H248.4 Q242,180.2 242,174 Z" fill="#fff" stroke="#c2121b" stroke-width="2.2" stroke-linejoin="round"/>
<g font-family="Liberation Serif, serif" fill="#3a3a3a" stroke="#3a3a3a" stroke-width="0.12">
<text x="245" y="154.4" font-size="11.0" text-anchor="start" transform="matrix(1,0,0,1.08,0,-12.4)" >Phase difference of <tspan font-weight="bold" font-size="10.0" stroke-width="0">Band-pass</tspan> filtering :206.7</text>
<text x="245" y="172.2" font-size="11.1" text-anchor="start" transform="matrix(1,0,0,1.08,0,-13.8)" >Phase difference of nonlinear filtering :163.4°</text>
</g>
</svg>
</body></html>
